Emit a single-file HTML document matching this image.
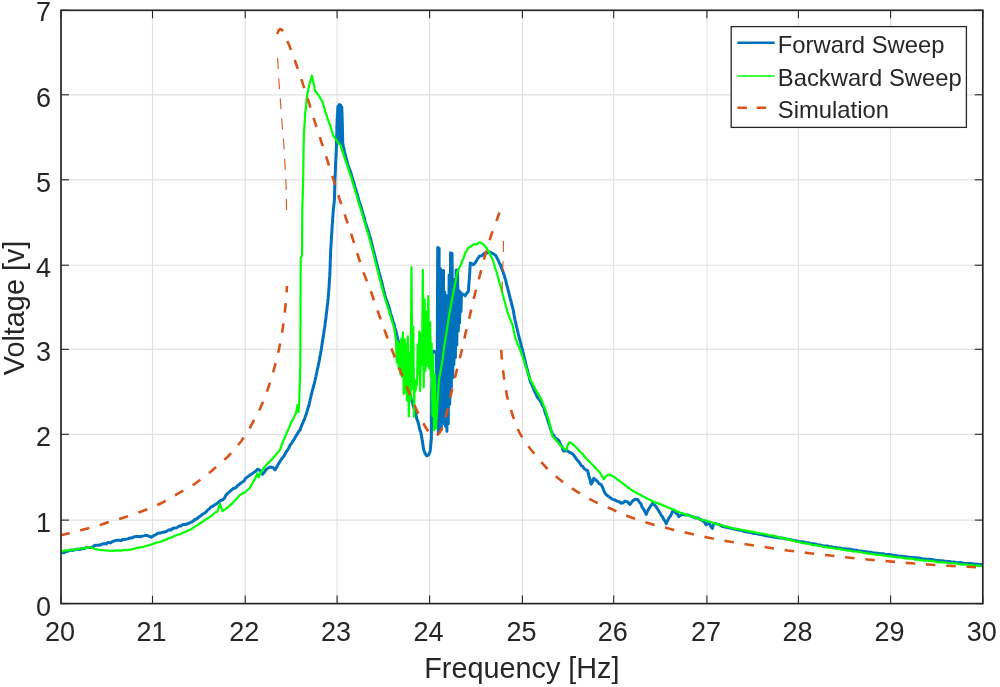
<!DOCTYPE html>
<html lang="en">
<head>
<meta charset="utf-8">
<title>Voltage vs Frequency sweep</title>
<style>
html,body{margin:0;padding:0;background:#fff;}
body{width:1000px;height:687px;overflow:hidden;}
svg{display:block;filter:blur(0.45px);font-family:"Liberation Sans",sans-serif;}
</style>
</head>
<body>
<svg width="1000" height="687" viewBox="0 0 1000 687">
<defs><clipPath id="box"><rect x="61.0" y="10.3" width="921.80" height="593.30"/></clipPath></defs>
<rect width="1000" height="687" fill="#fff"/>
<line x1="152.50" y1="10.3" x2="152.50" y2="603.6" stroke="#e1e1e1" stroke-width="1.15"/>
<line x1="245.20" y1="10.3" x2="245.20" y2="603.6" stroke="#e1e1e1" stroke-width="1.15"/>
<line x1="337.10" y1="10.3" x2="337.10" y2="603.6" stroke="#e1e1e1" stroke-width="1.15"/>
<line x1="429.60" y1="10.3" x2="429.60" y2="603.6" stroke="#e1e1e1" stroke-width="1.15"/>
<line x1="522.40" y1="10.3" x2="522.40" y2="603.6" stroke="#e1e1e1" stroke-width="1.15"/>
<line x1="613.70" y1="10.3" x2="613.70" y2="603.6" stroke="#e1e1e1" stroke-width="1.15"/>
<line x1="706.90" y1="10.3" x2="706.90" y2="603.6" stroke="#e1e1e1" stroke-width="1.15"/>
<line x1="798.40" y1="10.3" x2="798.40" y2="603.6" stroke="#e1e1e1" stroke-width="1.15"/>
<line x1="890.60" y1="10.3" x2="890.60" y2="603.6" stroke="#e1e1e1" stroke-width="1.15"/>
<line x1="61.0" y1="520.10" x2="982.8" y2="520.10" stroke="#e1e1e1" stroke-width="1.15"/>
<line x1="61.0" y1="434.30" x2="982.8" y2="434.30" stroke="#e1e1e1" stroke-width="1.15"/>
<line x1="61.0" y1="349.30" x2="982.8" y2="349.30" stroke="#e1e1e1" stroke-width="1.15"/>
<line x1="61.0" y1="265.20" x2="982.8" y2="265.20" stroke="#e1e1e1" stroke-width="1.15"/>
<line x1="61.0" y1="179.80" x2="982.8" y2="179.80" stroke="#e1e1e1" stroke-width="1.15"/>
<line x1="61.0" y1="94.80" x2="982.8" y2="94.80" stroke="#e1e1e1" stroke-width="1.15"/>
<g clip-path="url(#box)" fill="none" stroke-linejoin="round">
<polyline points="60.5,552.5 64.0,552.8 66.0,551.5 68.0,551.2 70.3,550.1 72.7,550.4 75.0,549.8 77.3,549.1 79.7,549.5 82.0,548.6 84.0,548.7 86.0,547.7 88.0,547.4 90.0,547.4 92.0,547.4 94.0,545.8 96.0,545.3 98.0,545.3 100.0,545.1 102.0,544.2 104.0,543.6 106.0,544.0 108.0,542.4 110.3,542.9 112.7,541.5 115.0,540.7 117.0,540.3 119.0,540.2 121.0,540.6 123.0,539.4 125.3,539.4 127.7,538.9 130.0,538.0 132.0,537.9 134.0,536.9 136.0,536.6 138.0,536.4 140.0,536.8 142.5,536.1 145.0,535.6 147.5,535.6 149.3,536.4 151.2,537.2 154.0,535.4 156.0,534.6 158.0,533.3 160.0,533.1 162.3,532.3 164.7,532.1 167.0,531.1 169.0,529.8 171.0,530.1 173.0,528.2 175.0,527.9 177.0,527.7 179.0,526.1 181.0,525.9 183.0,524.6 185.3,524.5 187.7,523.8 190.0,522.6 192.5,521.7 195.0,519.5 196.7,518.9 198.3,517.5 200.0,516.3 202.0,514.6 204.0,513.5 206.0,512.1 207.6,510.1 209.2,509.1 210.9,506.9 212.5,506.5 214.2,505.1 216.0,504.2 218.0,502.8 220.0,500.9 223.0,499.6 224.5,498.0 226.0,495.1 227.5,493.7 229.8,491.5 232.0,489.7 233.8,488.2 235.7,487.9 237.5,485.7 239.8,484.0 242.0,482.3 243.8,481.2 245.7,478.2 247.5,476.9 249.8,475.2 252.0,473.7 253.8,472.4 255.7,471.2 257.5,469.2 260.0,470.4 261.2,472.0 262.5,474.3 264.2,472.5 266.0,469.5 268.0,468.3 270.0,467.1 273.0,467.6 275.0,469.8 276.2,468.0 277.5,465.7 278.7,463.3 279.8,461.9 281.0,459.8 282.3,458.0 283.7,456.5 285.0,454.1 286.3,451.7 287.7,449.8 289.0,447.7 290.2,444.8 291.3,443.9 292.5,441.6 293.7,440.0 294.8,438.2 296.0,435.8 297.3,433.9 298.7,431.4 300.0,430.2 301.0,427.1 302.0,424.7 303.0,422.6 303.8,420.5 304.6,418.8 305.4,416.4 306.2,414.3 306.8,412.5 307.3,410.4 307.9,408.8 308.4,406.3 309.0,405.5 309.4,403.0 309.9,401.0 310.3,399.0 310.8,397.0 311.2,395.0 311.8,393.2 312.3,390.5 312.9,388.7 313.4,386.8 314.0,384.8 314.4,383.0 314.9,381.0 315.3,379.0 315.8,377.0 316.2,375.0 316.7,372.8 317.1,370.7 317.6,368.5 318.1,366.3 318.5,364.2 319.0,362.0 319.4,360.0 319.7,358.0 320.1,356.0 320.5,354.0 320.8,352.0 321.2,350.0 321.5,348.0 321.8,346.0 322.1,344.0 322.4,342.0 322.7,340.0 323.0,338.0 323.3,335.8 323.7,333.7 324.0,331.5 324.3,329.3 324.7,327.2 325.0,325.0 325.2,323.0 325.5,321.0 325.8,319.0 326.0,317.0 326.2,315.0 326.5,313.0 326.8,310.8 327.0,308.7 327.2,306.5 327.5,304.3 327.8,302.2 328.0,300.0 328.2,297.9 328.3,295.7 328.5,293.6 328.7,291.4 328.9,289.3 329.0,287.1 329.2,285.0 329.3,282.9 329.4,280.7 329.5,278.6 329.7,276.4 329.8,274.3 329.9,272.1 330.0,270.0 330.1,267.8 330.2,265.7 330.2,263.5 330.3,261.3 330.4,259.2 330.5,257.0 330.5,254.8 330.6,252.7 330.7,250.5 330.8,248.5 330.9,246.5 331.1,244.5 331.2,242.5 331.3,240.4 331.4,238.4 331.5,236.4 331.7,234.4 331.8,232.4 331.9,230.4 332.0,228.4 332.2,226.4 332.3,224.4 332.5,222.4 332.6,220.4 332.7,218.3 332.9,216.3 333.0,214.3 333.2,212.3 333.3,210.3 333.5,208.2 333.7,206.2 334.0,204.1 334.2,202.1 334.4,200.0 334.5,197.8 334.5,195.6 334.6,193.4 334.6,191.2 334.7,189.0 334.7,186.8 334.8,184.6 334.8,182.4 334.9,180.2 335.0,178.2 335.1,176.2 335.2,174.1 335.3,172.1 335.4,170.1 335.4,168.1 335.5,166.1 335.6,164.0 335.7,162.0 335.8,160.0 335.9,158.0 336.0,156.0 336.1,154.0 336.2,152.0 336.3,150.0 336.4,148.0 336.4,146.0 336.5,144.0 336.5,142.0 336.6,140.0 336.6,138.0 336.7,136.0 336.8,134.0 336.8,132.0 336.9,130.0 336.9,128.0 336.9,126.0 337.0,124.0 337.1,121.8 337.2,119.6 337.3,117.4 337.4,115.2 337.6,113.1 337.7,110.9 337.8,108.7 337.9,106.5 337.9,108.5 338.0,110.6 338.0,112.6 338.0,114.6 338.1,116.6 338.1,118.7 338.1,120.7 338.2,122.7 338.2,124.8 338.3,126.8 338.3,128.8 338.3,130.9 338.4,132.9 338.4,134.9 338.4,136.9 338.5,139.0 338.5,141.0 338.5,139.0 338.6,136.9 338.6,134.9 338.7,132.9 338.7,130.9 338.7,128.8 338.8,126.8 338.8,124.8 338.9,122.8 338.9,120.7 338.9,118.7 339.0,116.7 339.0,114.6 339.0,112.6 339.1,110.6 339.1,108.6 339.2,106.5 339.2,104.5 339.2,106.5 339.3,108.6 339.3,110.6 339.3,112.6 339.4,114.6 339.4,116.7 339.5,118.7 339.5,120.7 339.5,122.7 339.6,124.8 339.6,126.8 339.6,128.8 339.7,130.8 339.7,132.9 339.8,134.9 339.8,136.9 339.8,138.9 339.9,141.0 339.9,143.0 339.9,141.0 340.0,139.0 340.0,137.0 340.0,135.0 340.1,133.0 340.1,131.0 340.2,129.0 340.2,127.0 340.2,125.0 340.3,123.0 340.3,121.0 340.3,119.0 340.4,117.0 340.4,115.0 340.5,113.0 340.5,111.0 340.5,109.0 340.6,107.0 340.6,105.0 340.6,107.1 340.7,109.1 340.7,111.2 340.7,113.2 340.8,115.3 340.8,117.3 340.8,119.4 340.9,121.4 340.9,123.5 340.9,125.5 340.9,127.6 341.0,129.6 341.0,131.7 341.0,133.7 341.1,135.8 341.1,137.8 341.1,139.9 341.2,141.9 341.2,144.0 341.2,141.9 341.3,139.9 341.3,137.8 341.3,135.8 341.4,133.7 341.4,131.7 341.4,129.6 341.5,127.6 341.5,125.5 341.5,123.4 341.6,121.4 341.6,119.3 341.6,117.3 341.7,115.2 341.7,113.2 341.7,111.1 341.8,109.1 341.8,107.0 341.8,109.1 341.9,111.2 341.9,113.3 342.0,115.4 342.0,117.5 342.1,119.5 342.1,121.6 342.2,123.7 342.2,125.8 342.3,127.9 342.3,130.0 342.3,128.0 342.2,126.0 342.2,124.0 342.2,122.0 342.1,120.0 342.1,118.0 342.1,116.0 342.0,114.0 342.0,112.0 342.1,114.1 342.1,116.1 342.2,118.2 342.2,120.3 342.3,122.3 342.3,124.4 342.4,126.5 342.4,128.5 342.5,130.6 342.5,132.7 342.6,134.7 342.6,136.8 342.7,138.9 342.7,140.9 342.8,143.0 343.2,145.2 343.7,147.5 344.2,149.8 344.6,152.0 345.1,154.0 345.6,156.1 346.1,158.1 346.6,160.1 347.2,161.6 347.9,164.6 348.5,166.8 349.2,168.1 349.8,170.1 350.5,171.6 351.1,173.6 351.8,176.0 352.4,177.9 353.0,180.7 353.6,181.7 354.2,183.6 354.8,186.9 355.4,188.3 356.0,189.8 356.6,192.3 357.2,193.6 357.8,196.3 358.4,199.0 359.0,200.8 359.6,202.6 360.2,204.0 360.8,206.2 361.4,207.9 362.0,210.7 362.6,212.4 363.2,214.8 363.8,216.2 364.4,218.0 365.0,220.8 365.6,223.1 366.2,224.9 366.8,226.8 367.4,228.8 368.0,230.7 368.6,232.0 369.2,234.4 369.8,236.2 370.4,237.7 370.9,240.4 371.4,242.4 371.9,244.4 372.4,246.4 372.9,248.4 373.4,250.4 374.0,252.5 374.5,254.5 375.0,256.5 375.5,258.5 376.0,260.5 376.5,262.5 377.0,264.4 377.5,266.4 378.0,268.3 378.5,270.3 379.0,272.2 379.5,274.2 380.0,276.1 380.5,278.1 381.0,280.0 381.6,281.5 382.1,284.0 382.7,286.1 383.3,288.8 383.9,291.4 384.4,292.8 385.0,295.6 385.6,297.7 386.2,299.6 386.9,300.8 387.5,302.6 388.1,304.6 388.8,306.6 389.4,308.6 390.0,311.2 390.6,313.6 391.2,315.6 391.9,317.2 392.5,319.5 393.1,321.7 393.8,322.8 394.4,325.7 395.0,328.1 395.5,329.6 396.0,331.6 396.5,333.7 397.0,335.8 397.5,337.8 398.0,339.9 398.5,341.9 399.0,344.0 399.4,346.0 399.9,348.0 400.3,350.0 400.8,352.0 401.2,354.0 401.6,356.0 402.1,358.0 402.5,360.0 402.9,362.1 403.4,364.2 403.8,366.4 404.2,368.5 404.7,370.6 405.1,372.8 405.6,374.9 406.0,377.0 406.4,379.0 406.9,381.0 407.3,383.0 407.8,385.0 408.2,387.0 408.7,389.0 409.1,391.0 409.6,393.0 410.0,395.0 410.7,397.6 411.3,399.7 412.0,401.5 412.7,403.2 413.3,406.2 414.0,407.8 414.5,410.4 415.1,412.6 415.6,413.8 416.2,415.7 416.7,418.5 417.3,420.1 417.8,421.3 418.4,423.5 419.0,425.7 419.6,428.9 420.2,431.0 420.8,432.2 421.4,435.4 421.7,437.0 422.0,439.0 422.3,441.1 422.7,443.2 423.0,445.3 423.3,447.3 423.6,449.4 424.6,452.3 425.5,454.0 426.5,455.8 428.5,455.1 430.1,451.5 430.3,450.0 430.5,448.0 430.7,446.0 430.8,444.0 431.0,442.0 431.2,440.0 431.4,438.0 431.4,436.0 431.4,434.0 431.4,432.0 431.5,430.0 431.5,428.0 431.5,426.0 431.5,424.0 431.5,422.0 431.5,420.0 431.5,418.0 431.5,416.0 431.6,414.0 431.6,412.0 431.6,410.0 431.6,408.0 431.6,406.0 431.6,404.0 431.6,402.0 431.7,400.0 431.7,398.0 431.7,396.0 431.7,394.0 431.7,392.0 431.8,390.0 431.8,388.0 431.9,386.0 431.9,384.0 431.9,382.0 432.0,380.0 432.0,378.0 432.0,376.0 432.1,374.0 432.1,372.0 432.2,370.0 432.2,368.0 432.2,366.0 432.3,364.0 432.3,362.0 432.3,360.0 432.4,358.0 432.4,356.0 432.5,354.0 432.5,352.0 434.0,351.3 435.8,352.7 436.4,352.4 436.4,354.2 436.4,356.2 436.5,358.2 436.5,360.2 436.5,362.3 436.5,364.3 436.5,366.3 436.6,368.3 436.6,370.4 436.6,372.4 436.6,374.4 436.6,376.5 436.6,378.5 436.7,380.5 436.7,382.5 436.7,384.6 436.7,386.6 436.7,388.6 436.8,390.6 436.8,392.7 436.8,394.7 436.8,396.7 436.8,398.7 436.9,400.8 436.9,402.8 436.9,404.8 436.9,406.8 436.9,408.9 436.9,410.9 437.0,412.9 437.0,414.9 437.0,412.9 437.0,410.9 437.0,408.9 437.0,406.9 437.0,404.9 437.0,402.9 437.0,400.8 437.1,398.8 437.1,396.8 437.1,394.8 437.1,392.8 437.1,390.8 437.1,388.7 437.1,386.7 437.1,384.7 437.1,382.7 437.1,380.7 437.1,378.7 437.2,376.6 437.2,374.6 437.2,372.6 437.2,370.6 437.2,368.6 437.2,366.6 437.2,364.5 437.2,362.5 437.2,360.5 437.2,358.5 437.2,356.5 437.2,354.5 437.3,352.4 437.3,350.4 437.3,348.4 437.3,346.4 437.3,344.4 437.3,342.4 437.3,340.4 437.3,338.3 437.3,336.3 437.3,334.3 437.3,332.3 437.4,330.3 437.4,328.3 437.4,326.2 437.4,324.2 437.4,322.2 437.4,320.2 437.4,318.2 437.4,316.2 437.4,314.1 437.4,312.1 437.4,310.1 437.4,308.1 437.5,306.1 437.5,304.1 437.5,302.0 437.5,300.0 437.5,298.0 437.5,296.0 437.5,294.0 437.5,292.0 437.5,289.9 437.5,287.9 437.5,285.9 437.6,283.9 437.6,281.9 437.6,279.9 437.6,277.9 437.6,275.8 437.6,273.8 437.6,271.8 437.6,269.8 437.6,267.8 437.6,265.8 437.6,263.7 437.6,261.7 437.7,259.7 437.7,257.7 437.7,255.7 437.7,253.7 437.7,251.6 437.7,249.6 437.7,247.6 437.7,249.6 437.7,251.6 437.7,253.7 437.7,255.7 437.7,257.7 437.7,259.7 437.8,261.7 437.8,263.7 437.8,265.8 437.8,267.8 437.8,269.8 437.8,271.8 437.8,273.8 437.8,275.8 437.8,277.9 437.8,279.9 437.8,281.9 437.8,283.9 437.8,285.9 437.8,287.9 437.9,290.0 437.9,292.0 437.9,294.0 437.9,296.0 437.9,298.0 437.9,300.0 437.9,302.0 437.9,304.1 437.9,306.1 437.9,308.1 437.9,310.1 437.9,312.1 437.9,314.1 437.9,316.2 437.9,318.2 438.0,320.2 438.0,322.2 438.0,324.2 438.0,326.2 438.0,328.3 438.0,330.3 438.0,332.3 438.0,334.3 438.0,336.3 438.0,338.3 438.0,340.4 438.0,342.4 438.0,344.4 438.0,346.4 438.0,348.4 438.1,350.4 438.1,352.5 438.1,354.5 438.1,356.5 438.1,358.5 438.1,360.5 438.1,362.5 438.1,364.5 438.1,366.6 438.1,368.6 438.1,370.6 438.1,372.6 438.1,374.6 438.1,376.6 438.2,378.7 438.2,380.7 438.2,382.7 438.2,384.7 438.2,386.7 438.2,388.7 438.2,390.8 438.2,392.8 438.2,394.8 438.2,396.8 438.2,398.8 438.2,400.8 438.2,402.9 438.2,404.9 438.2,406.9 438.3,408.9 438.3,410.9 438.3,412.9 438.3,415.0 438.3,417.0 438.3,419.0 438.3,421.0 438.3,423.0 438.3,425.0 438.3,427.0 438.3,429.1 438.3,431.1 438.3,433.1 438.3,431.1 438.4,429.1 438.4,427.1 438.4,425.1 438.4,423.0 438.4,421.0 438.4,419.0 438.4,417.0 438.4,415.0 438.4,413.0 438.4,411.0 438.4,409.0 438.4,407.0 438.4,405.0 438.5,402.9 438.5,400.9 438.5,398.9 438.5,396.9 438.5,394.9 438.5,392.9 438.5,390.9 438.5,388.9 438.5,386.9 438.5,384.9 438.5,382.8 438.5,380.8 438.6,378.8 438.6,376.8 438.6,374.8 438.6,372.8 438.6,370.8 438.6,368.8 438.6,366.8 438.6,364.8 438.6,362.7 438.6,360.7 438.6,358.7 438.6,356.7 438.6,354.7 438.7,352.7 438.7,350.7 438.7,348.7 438.7,346.7 438.7,344.7 438.7,342.6 438.7,340.6 438.7,338.6 438.7,336.6 438.7,334.6 438.7,332.6 438.7,330.6 438.7,328.6 438.8,326.6 438.8,324.6 438.8,322.5 438.8,320.5 438.8,318.5 438.8,316.5 438.8,314.5 438.8,312.5 438.8,310.5 438.8,308.5 438.8,306.5 438.8,304.5 438.9,302.4 438.9,300.4 438.9,298.4 438.9,296.4 438.9,294.4 438.9,292.4 438.9,290.4 438.9,288.4 438.9,286.4 438.9,284.4 438.9,282.3 438.9,280.3 438.9,278.3 439.0,276.3 439.0,274.3 439.0,272.3 439.0,270.3 439.0,268.3 439.0,266.3 439.0,264.3 439.0,262.2 439.0,260.2 439.0,258.2 439.0,256.2 439.0,254.2 439.0,252.2 439.1,250.2 439.1,248.2 439.1,250.2 439.1,252.2 439.1,254.2 439.1,256.2 439.1,258.3 439.1,260.3 439.1,262.3 439.1,264.3 439.1,266.3 439.1,268.3 439.1,270.3 439.2,272.4 439.2,274.4 439.2,276.4 439.2,278.4 439.2,280.4 439.2,282.4 439.2,284.5 439.2,286.5 439.2,288.5 439.2,290.5 439.2,292.5 439.2,294.5 439.2,296.5 439.3,298.6 439.3,300.6 439.3,302.6 439.3,304.6 439.3,306.6 439.3,308.6 439.3,310.7 439.3,312.7 439.3,314.7 439.3,316.7 439.3,318.7 439.3,320.7 439.3,322.8 439.4,324.8 439.4,326.8 439.4,328.8 439.4,330.8 439.4,332.8 439.4,334.8 439.4,336.9 439.4,338.9 439.4,340.9 439.4,342.9 439.4,344.9 439.4,346.9 439.4,349.0 439.4,351.0 439.5,353.0 439.5,355.0 439.5,357.0 439.5,359.0 439.5,361.1 439.5,363.1 439.5,365.1 439.5,367.1 439.5,369.1 439.5,371.1 439.5,373.1 439.5,375.2 439.5,377.2 439.6,379.2 439.6,381.2 439.6,383.2 439.6,385.2 439.6,387.3 439.6,389.3 439.6,391.3 439.6,393.3 439.6,395.3 439.6,397.3 439.6,399.3 439.6,401.4 439.6,403.4 439.7,405.4 439.7,407.4 439.7,409.4 439.7,411.4 439.7,413.5 439.7,415.5 439.7,417.5 439.7,419.5 439.7,421.5 439.7,423.5 439.7,425.6 439.7,423.5 439.7,421.5 439.8,419.5 439.8,417.5 439.8,415.5 439.8,413.5 439.8,411.5 439.8,409.5 439.8,407.4 439.8,405.4 439.8,403.4 439.8,401.4 439.8,399.4 439.9,397.4 439.9,395.4 439.9,393.4 439.9,391.3 439.9,389.3 439.9,387.3 439.9,385.3 439.9,383.3 439.9,381.3 439.9,379.3 439.9,377.3 439.9,375.2 440.0,373.2 440.0,371.2 440.0,369.2 440.0,367.2 440.0,365.2 440.0,363.2 440.0,361.2 440.0,359.1 440.0,357.1 440.0,355.1 440.0,353.1 440.1,351.1 440.1,349.1 440.1,347.1 440.1,345.1 440.1,343.0 440.1,341.0 440.1,339.0 440.1,337.0 440.1,335.0 440.1,333.0 440.1,331.0 440.2,329.0 440.2,326.9 440.2,324.9 440.2,322.9 440.2,320.9 440.2,318.9 440.2,316.9 440.2,314.9 440.2,312.9 440.2,310.8 440.2,308.8 440.2,306.8 440.3,304.8 440.3,302.8 440.3,300.8 440.3,298.8 440.3,296.8 440.3,294.7 440.3,292.7 440.3,290.7 440.3,288.7 440.3,286.7 440.3,284.7 440.4,282.7 440.4,280.7 440.4,278.6 440.4,276.6 440.4,274.6 440.4,272.6 440.4,270.6 440.4,268.6 440.4,270.6 440.4,272.6 440.4,274.6 440.5,276.6 440.5,278.6 440.5,280.7 440.5,282.7 440.5,284.7 440.5,286.7 440.5,288.7 440.5,290.7 440.5,292.7 440.6,294.8 440.6,296.8 440.6,298.8 440.6,300.8 440.6,302.8 440.6,304.8 440.6,306.8 440.6,308.8 440.6,310.9 440.6,312.9 440.7,314.9 440.7,316.9 440.7,318.9 440.7,320.9 440.7,322.9 440.7,324.9 440.7,327.0 440.7,329.0 440.7,331.0 440.7,333.0 440.8,335.0 440.8,337.0 440.8,339.0 440.8,341.1 440.8,343.1 440.8,345.1 440.8,347.1 440.8,349.1 440.8,351.1 440.9,353.1 440.9,355.1 440.9,357.2 440.9,359.2 440.9,361.2 440.9,363.2 440.9,365.2 440.9,367.2 440.9,369.2 440.9,371.2 441.0,373.3 441.0,375.3 441.0,377.3 441.0,379.3 441.0,381.3 441.0,383.3 441.0,385.3 441.0,387.4 441.0,389.4 441.0,391.4 441.1,393.4 441.1,395.4 441.1,397.4 441.1,399.4 441.1,401.4 441.1,403.5 441.1,405.5 441.1,407.5 441.1,409.5 441.2,411.5 441.2,413.5 441.2,415.5 441.2,417.5 441.2,419.6 441.2,421.6 441.2,423.6 441.2,425.6 441.2,427.6 441.2,429.6 441.3,427.6 441.3,425.6 441.3,423.6 441.3,421.6 441.3,419.6 441.3,417.5 441.3,415.5 441.3,413.5 441.3,411.5 441.3,409.5 441.3,407.5 441.3,405.4 441.4,403.4 441.4,401.4 441.4,399.4 441.4,397.4 441.4,395.4 441.4,393.4 441.4,391.3 441.4,389.3 441.4,387.3 441.4,385.3 441.4,383.3 441.5,381.3 441.5,379.3 441.5,377.2 441.5,375.2 441.5,373.2 441.5,371.2 441.5,369.2 441.5,367.2 441.5,365.2 441.5,363.1 441.5,361.1 441.6,359.1 441.6,357.1 441.6,355.1 441.6,353.1 441.6,351.1 441.6,349.0 441.6,347.0 441.6,345.0 441.6,343.0 441.6,341.0 441.6,339.0 441.6,337.0 441.7,334.9 441.7,332.9 441.7,330.9 441.7,328.9 441.7,326.9 441.7,324.9 441.7,322.8 441.7,320.8 441.7,318.8 441.7,316.8 441.7,314.8 441.8,312.8 441.8,310.8 441.8,308.7 441.8,306.7 441.8,304.7 441.8,302.7 441.8,300.7 441.8,298.7 441.8,296.7 441.8,294.6 441.8,292.6 441.9,290.6 441.9,288.6 441.9,286.6 441.9,284.6 441.9,282.6 441.9,280.5 441.9,278.5 441.9,276.5 441.9,274.5 441.9,272.5 441.9,270.5 441.9,272.5 442.0,274.5 442.0,276.5 442.0,278.5 442.0,280.5 442.0,282.5 442.0,284.5 442.0,286.5 442.0,288.5 442.0,290.5 442.0,292.5 442.1,294.5 442.1,296.5 442.1,298.5 442.1,300.5 442.1,302.5 442.1,304.5 442.1,306.5 442.1,308.5 442.1,310.5 442.1,312.5 442.2,314.5 442.2,316.6 442.2,318.6 442.2,320.6 442.2,322.6 442.2,324.6 442.2,326.6 442.2,328.6 442.2,330.6 442.2,332.6 442.2,334.6 442.3,336.6 442.3,338.6 442.3,340.6 442.3,342.6 442.3,344.6 442.3,346.6 442.3,348.6 442.3,350.6 442.3,352.6 442.3,354.6 442.4,356.6 442.4,358.6 442.4,360.6 442.4,362.6 442.4,364.6 442.4,366.6 442.4,368.6 442.4,370.7 442.4,372.7 442.4,374.7 442.4,376.7 442.5,378.7 442.5,380.7 442.5,382.7 442.5,384.7 442.5,386.7 442.5,388.7 442.5,390.7 442.5,392.7 442.5,394.7 442.5,396.7 442.6,398.7 442.6,400.7 442.6,402.7 442.6,404.7 442.6,406.7 442.6,408.7 442.6,410.7 442.6,412.7 442.6,414.7 442.6,416.7 442.7,418.7 442.7,420.7 442.7,418.7 442.7,416.7 442.7,414.7 442.7,412.7 442.7,410.7 442.7,408.7 442.7,406.7 442.7,404.7 442.8,402.7 442.8,400.7 442.8,398.7 442.8,396.7 442.8,394.7 442.8,392.7 442.8,390.7 442.8,388.7 442.8,386.7 442.9,384.7 442.9,382.7 442.9,380.7 442.9,378.7 442.9,376.7 442.9,374.7 442.9,372.7 442.9,370.7 442.9,368.7 442.9,366.7 443.0,364.7 443.0,362.7 443.0,360.7 443.0,358.7 443.0,356.7 443.0,354.7 443.0,352.7 443.0,350.7 443.0,348.7 443.1,346.7 443.1,344.7 443.1,342.7 443.1,340.7 443.1,338.7 443.1,336.7 443.1,334.7 443.1,332.7 443.1,330.7 443.2,328.7 443.2,326.7 443.2,324.7 443.2,322.7 443.2,320.7 443.2,318.7 443.2,316.7 443.2,314.7 443.2,312.6 443.2,310.6 443.3,308.6 443.3,306.6 443.3,304.6 443.3,302.6 443.3,300.6 443.3,298.6 443.3,296.6 443.3,294.6 443.3,292.6 443.4,290.6 443.4,288.6 443.4,286.6 443.4,284.6 443.4,282.6 443.4,280.6 443.4,278.6 443.4,276.6 443.4,274.6 443.5,272.6 443.5,270.6 443.5,272.6 443.5,274.6 443.5,276.7 443.5,278.7 443.5,280.7 443.5,282.7 443.5,284.7 443.5,286.7 443.5,288.8 443.5,290.8 443.6,292.8 443.6,294.8 443.6,296.8 443.6,298.8 443.6,300.9 443.6,302.9 443.6,304.9 443.6,306.9 443.6,308.9 443.6,310.9 443.6,312.9 443.6,315.0 443.6,317.0 443.7,319.0 443.7,321.0 443.7,323.0 443.7,325.0 443.7,327.1 443.7,329.1 443.7,331.1 443.7,333.1 443.7,335.1 443.7,337.1 443.7,339.2 443.7,341.2 443.8,343.2 443.8,345.2 443.8,347.2 443.8,349.2 443.8,351.3 443.8,353.3 443.8,355.3 443.8,357.3 443.8,359.3 443.8,361.3 443.8,363.4 443.8,365.4 443.8,367.4 443.9,369.4 443.9,371.4 443.9,373.4 443.9,375.4 443.9,377.5 443.9,379.5 443.9,381.5 443.9,383.5 443.9,385.5 443.9,387.5 443.9,389.6 443.9,391.6 444.0,393.6 444.0,395.6 444.0,397.6 444.0,399.6 444.0,401.7 444.0,403.7 444.0,405.7 444.0,407.7 444.0,409.7 444.0,411.7 444.0,413.8 444.0,415.8 444.1,417.8 444.1,419.8 444.1,421.8 444.1,423.8 444.1,421.8 444.1,419.8 444.1,417.7 444.1,415.7 444.1,413.7 444.1,411.7 444.1,409.6 444.1,407.6 444.2,405.6 444.2,403.5 444.2,401.5 444.2,399.5 444.2,397.4 444.2,395.4 444.2,393.4 444.2,391.3 444.2,389.3 444.2,387.3 444.3,385.3 444.3,383.2 444.3,381.2 444.3,379.2 444.3,377.1 444.3,375.1 444.3,373.1 444.3,371.0 444.3,369.0 444.3,367.0 444.3,365.0 444.4,362.9 444.4,360.9 444.4,358.9 444.4,356.8 444.4,354.8 444.4,352.8 444.4,350.7 444.4,348.7 444.4,346.7 444.4,344.7 444.4,342.6 444.5,340.6 444.5,338.6 444.5,336.5 444.5,334.5 444.5,332.5 444.5,330.4 444.5,328.4 444.5,326.4 444.5,324.4 444.5,322.3 444.5,320.3 444.6,318.3 444.6,316.2 444.6,314.2 444.6,312.2 444.6,310.1 444.6,308.1 444.6,306.1 444.6,304.1 444.6,302.0 444.6,300.0 444.6,298.0 444.7,295.9 444.7,293.9 444.7,291.9 444.7,293.9 444.7,295.9 444.7,297.9 444.7,299.9 444.7,301.9 444.8,303.9 444.8,305.9 444.8,307.9 444.8,309.9 444.8,311.9 444.8,313.9 444.8,315.9 444.8,317.9 444.8,319.9 444.9,321.9 444.9,323.9 444.9,326.0 444.9,328.0 444.9,330.0 444.9,332.0 444.9,334.0 444.9,336.0 445.0,338.0 445.0,340.0 445.0,342.0 445.0,344.0 445.0,346.0 445.0,348.0 445.0,350.0 445.0,352.0 445.1,354.0 445.1,356.0 445.1,358.0 445.1,360.0 445.1,362.0 445.1,364.0 445.1,366.0 445.1,368.0 445.2,370.1 445.2,372.1 445.2,374.1 445.2,376.1 445.2,378.1 445.2,380.1 445.2,382.1 445.2,384.1 445.2,386.1 445.3,388.1 445.3,390.1 445.3,392.1 445.3,394.1 445.3,396.1 445.3,398.1 445.3,400.1 445.3,402.1 445.4,404.1 445.4,406.1 445.4,408.1 445.4,410.1 445.4,412.1 445.4,414.2 445.4,416.2 445.4,418.2 445.5,420.2 445.5,422.2 445.5,424.2 445.5,426.2 445.5,424.2 445.5,422.2 445.5,420.2 445.5,418.1 445.6,416.1 445.6,414.1 445.6,412.1 445.6,410.1 445.6,408.1 445.6,406.1 445.6,404.1 445.6,402.1 445.6,400.1 445.7,398.1 445.7,396.1 445.7,394.0 445.7,392.0 445.7,390.0 445.7,388.0 445.7,386.0 445.7,384.0 445.8,382.0 445.8,380.0 445.8,378.0 445.8,376.0 445.8,374.0 445.8,372.0 445.8,369.9 445.8,367.9 445.9,365.9 445.9,363.9 445.9,361.9 445.9,359.9 445.9,357.9 445.9,355.9 445.9,353.9 445.9,351.9 446.0,349.9 446.0,347.9 446.0,345.8 446.0,343.8 446.0,341.8 446.0,339.8 446.0,337.8 446.0,335.8 446.1,333.8 446.1,331.8 446.1,329.8 446.1,327.8 446.1,325.8 446.1,323.8 446.1,321.7 446.1,319.7 446.1,317.7 446.2,315.7 446.2,313.7 446.2,311.7 446.2,309.7 446.2,307.7 446.2,305.7 446.2,303.7 446.2,301.7 446.3,299.7 446.3,297.6 446.3,295.6 446.3,297.7 446.3,299.7 446.3,301.7 446.3,303.7 446.3,305.8 446.3,307.8 446.3,309.8 446.4,311.8 446.4,313.8 446.4,315.9 446.4,317.9 446.4,319.9 446.4,321.9 446.4,324.0 446.4,326.0 446.4,328.0 446.4,330.0 446.5,332.1 446.5,334.1 446.5,336.1 446.5,338.1 446.5,340.1 446.5,342.2 446.5,344.2 446.5,346.2 446.5,348.2 446.5,350.3 446.5,352.3 446.6,354.3 446.6,356.3 446.6,358.4 446.6,360.4 446.6,362.4 446.6,364.4 446.6,366.4 446.6,368.5 446.6,370.5 446.6,372.5 446.6,374.5 446.7,376.6 446.7,378.6 446.7,380.6 446.7,382.6 446.7,384.7 446.7,386.7 446.7,388.7 446.7,390.7 446.7,392.7 446.7,394.8 446.8,396.8 446.8,398.8 446.8,400.8 446.8,402.9 446.8,404.9 446.8,406.9 446.8,408.9 446.8,411.0 446.8,413.0 446.8,415.0 446.8,417.0 446.9,419.0 446.9,421.1 446.9,423.1 446.9,425.1 446.9,427.1 446.9,429.2 446.9,431.2 446.9,429.2 446.9,427.2 446.9,425.1 446.9,423.1 447.0,421.1 447.0,419.1 447.0,417.1 447.0,415.1 447.0,413.0 447.0,411.0 447.0,409.0 447.0,407.0 447.0,405.0 447.0,403.0 447.1,401.0 447.1,398.9 447.1,396.9 447.1,394.9 447.1,392.9 447.1,390.9 447.1,388.9 447.1,386.9 447.1,384.8 447.1,382.8 447.1,380.8 447.2,378.8 447.2,376.8 447.2,374.8 447.2,372.8 447.2,370.7 447.2,368.7 447.2,366.7 447.2,364.7 447.2,362.7 447.2,360.7 447.2,358.7 447.3,356.6 447.3,354.6 447.3,352.6 447.3,350.6 447.3,348.6 447.3,346.6 447.3,344.5 447.3,342.5 447.3,340.5 447.3,338.5 447.3,336.5 447.4,334.5 447.4,332.5 447.4,330.4 447.4,328.4 447.4,326.4 447.4,324.4 447.4,322.4 447.4,320.4 447.4,318.4 447.4,316.3 447.4,314.3 447.5,312.3 447.5,310.3 447.5,308.3 447.5,306.3 447.5,304.3 447.5,302.2 447.5,300.2 447.5,298.2 447.5,300.2 447.5,302.3 447.6,304.3 447.6,306.3 447.6,308.3 447.6,310.4 447.6,312.4 447.6,314.4 447.6,316.4 447.6,318.5 447.7,320.5 447.7,322.5 447.7,324.5 447.7,326.6 447.7,328.6 447.7,330.6 447.7,332.7 447.7,334.7 447.8,336.7 447.8,338.7 447.8,340.8 447.8,342.8 447.8,344.8 447.8,346.8 447.8,348.9 447.8,350.9 447.9,352.9 447.9,354.9 447.9,357.0 447.9,359.0 447.9,361.0 447.9,363.0 447.9,365.1 447.9,367.1 448.0,369.1 448.0,371.1 448.0,373.2 448.0,375.2 448.0,377.2 448.0,379.2 448.0,381.3 448.0,383.3 448.1,385.3 448.1,387.4 448.1,389.4 448.1,391.4 448.1,393.4 448.1,395.5 448.1,397.5 448.1,399.5 448.2,401.5 448.2,403.6 448.2,405.6 448.2,407.6 448.2,409.6 448.2,411.7 448.2,413.7 448.2,415.7 448.3,417.7 448.3,419.8 448.3,421.8 448.3,423.8 448.3,421.8 448.3,419.8 448.3,417.8 448.3,415.8 448.3,413.8 448.4,411.8 448.4,409.7 448.4,407.7 448.4,405.7 448.4,403.7 448.4,401.7 448.4,399.7 448.4,397.7 448.4,395.7 448.5,393.7 448.5,391.7 448.5,389.6 448.5,387.6 448.5,385.6 448.5,383.6 448.5,381.6 448.5,379.6 448.5,377.6 448.6,375.6 448.6,373.6 448.6,371.5 448.6,369.5 448.6,367.5 448.6,365.5 448.6,363.5 448.6,361.5 448.6,359.5 448.7,357.5 448.7,355.5 448.7,353.5 448.7,351.4 448.7,349.4 448.7,347.4 448.7,345.4 448.7,343.4 448.7,341.4 448.8,339.4 448.8,337.4 448.8,335.4 448.8,333.3 448.8,331.3 448.8,329.3 448.8,327.3 448.8,325.3 448.8,323.3 448.9,321.3 448.9,319.3 448.9,317.3 448.9,315.3 448.9,313.2 448.9,311.2 448.9,309.2 448.9,307.2 448.9,305.2 449.0,303.2 449.0,301.2 449.0,299.2 449.0,297.2 449.0,295.1 449.0,293.1 449.0,291.1 449.0,289.1 449.0,287.1 449.1,285.1 449.1,283.1 449.1,281.1 449.1,279.1 449.1,277.1 449.1,275.0 449.1,277.1 449.1,279.1 449.1,281.1 449.2,283.1 449.2,285.1 449.2,287.1 449.2,289.2 449.2,291.2 449.2,293.2 449.2,295.2 449.2,297.2 449.2,299.3 449.2,301.3 449.2,303.3 449.3,305.3 449.3,307.3 449.3,309.3 449.3,311.4 449.3,313.4 449.3,315.4 449.3,317.4 449.3,319.4 449.3,321.5 449.3,323.5 449.4,325.5 449.4,327.5 449.4,329.5 449.4,331.5 449.4,333.6 449.4,335.6 449.4,337.6 449.4,339.6 449.4,341.6 449.4,343.7 449.5,345.7 449.5,347.7 449.5,349.7 449.5,351.7 449.5,353.7 449.5,355.8 449.5,357.8 449.5,359.8 449.5,361.8 449.5,363.8 449.5,365.9 449.6,367.9 449.6,369.9 449.6,371.9 449.6,373.9 449.6,375.9 449.6,378.0 449.6,380.0 449.6,382.0 449.6,384.0 449.6,386.0 449.7,388.1 449.7,390.1 449.7,392.1 449.7,394.1 449.7,396.1 449.7,398.1 449.7,400.2 449.7,402.2 449.7,404.2 449.7,402.2 449.8,400.2 449.8,398.1 449.8,396.1 449.8,394.1 449.8,392.1 449.8,390.1 449.8,388.0 449.8,386.0 449.8,384.0 449.9,382.0 449.9,380.0 449.9,377.9 449.9,375.9 449.9,373.9 449.9,371.9 449.9,369.9 449.9,367.8 449.9,365.8 449.9,363.8 450.0,361.8 450.0,359.8 450.0,357.7 450.0,355.7 450.0,353.7 450.0,351.7 450.0,349.7 450.0,347.6 450.0,345.6 450.1,343.6 450.1,341.6 450.1,339.6 450.1,337.5 450.1,335.5 450.1,333.5 450.1,331.5 450.1,329.5 450.1,327.4 450.2,325.4 450.2,323.4 450.2,321.4 450.2,319.4 450.2,317.3 450.2,315.3 450.2,313.3 450.2,311.3 450.2,309.3 450.3,307.2 450.3,305.2 450.3,303.2 450.3,301.2 450.3,299.2 450.3,297.1 450.3,295.1 450.3,293.1 450.3,291.1 450.4,289.1 450.4,287.0 450.4,285.0 450.4,283.0 450.4,281.0 450.4,279.0 450.4,276.9 450.4,274.9 450.4,272.9 450.5,270.9 450.5,268.9 450.5,266.8 450.5,264.8 450.5,262.8 450.5,260.8 450.5,258.8 450.5,256.7 450.5,254.7 450.6,252.7 450.6,254.7 450.6,256.7 450.6,258.7 450.6,260.7 450.6,262.8 450.6,264.8 450.6,266.8 450.7,268.8 450.7,270.8 450.7,272.8 450.7,274.8 450.7,276.8 450.7,278.8 450.7,280.8 450.7,282.8 450.7,284.9 450.8,286.9 450.8,288.9 450.8,290.9 450.8,292.9 450.8,294.9 450.8,296.9 450.8,298.9 450.8,300.9 450.9,302.9 450.9,305.0 450.9,307.0 450.9,309.0 450.9,311.0 450.9,313.0 450.9,315.0 450.9,317.0 451.0,319.0 451.0,321.0 451.0,323.0 451.0,325.0 451.0,327.1 451.0,329.1 451.0,331.1 451.0,333.1 451.0,335.1 451.1,337.1 451.1,339.1 451.1,341.1 451.1,343.1 451.1,345.1 451.1,347.1 451.1,349.2 451.1,351.2 451.2,353.2 451.2,355.2 451.2,357.2 451.2,359.2 451.2,361.2 451.2,363.2 451.2,365.2 451.2,367.2 451.3,369.3 451.3,371.3 451.3,373.3 451.3,375.3 451.3,377.3 451.3,379.3 451.3,381.3 451.3,383.3 451.4,385.3 451.4,387.3 451.4,385.3 451.4,383.3 451.4,381.3 451.4,379.2 451.4,377.2 451.4,375.2 451.4,373.1 451.5,371.1 451.5,369.1 451.5,367.1 451.5,365.0 451.5,363.0 451.5,361.0 451.5,358.9 451.5,356.9 451.5,354.9 451.6,352.9 451.6,350.8 451.6,348.8 451.6,346.8 451.6,344.7 451.6,342.7 451.6,340.7 451.6,338.7 451.6,336.6 451.6,334.6 451.7,332.6 451.7,330.6 451.7,328.5 451.7,326.5 451.7,324.5 451.7,322.4 451.7,320.4 451.7,318.4 451.7,316.4 451.8,314.3 451.8,312.3 451.8,310.3 451.8,308.2 451.8,306.2 451.8,304.2 451.8,302.2 451.8,300.1 451.8,298.1 451.9,296.1 451.9,294.0 451.9,292.0 451.9,290.0 451.9,288.0 451.9,285.9 451.9,283.9 451.9,281.9 451.9,279.8 452.0,277.8 452.0,275.8 452.0,273.8 452.0,271.7 452.0,269.7 452.0,267.7 452.0,265.7 452.0,263.6 452.0,261.6 452.1,259.6 452.1,257.5 452.1,255.5 452.1,253.5 452.1,255.5 452.1,257.5 452.1,259.5 452.1,261.5 452.1,263.5 452.2,265.5 452.2,267.5 452.2,269.5 452.2,271.5 452.2,273.5 452.2,275.5 452.2,277.5 452.2,279.5 452.2,281.5 452.3,283.5 452.3,285.5 452.3,287.6 452.3,289.6 452.3,291.6 452.3,293.6 452.3,295.6 452.3,297.6 452.3,299.6 452.4,301.6 452.4,303.6 452.4,305.6 452.4,307.6 452.4,309.6 452.4,311.6 452.4,313.6 452.4,315.6 452.4,317.6 452.5,319.6 452.5,321.6 452.5,323.6 452.5,325.6 452.5,327.6 452.5,329.6 452.5,331.6 452.5,333.6 452.5,335.7 452.6,337.7 452.6,339.7 452.6,341.7 452.6,343.7 452.6,345.7 452.6,347.7 452.6,349.7 452.6,351.7 452.6,353.7 452.6,355.7 452.7,357.7 452.7,359.7 452.7,361.7 452.7,363.7 452.7,365.7 452.7,367.7 452.7,369.7 452.7,371.7 452.7,373.7 452.8,375.7 452.8,377.7 452.8,375.7 452.8,373.7 452.8,371.6 452.8,369.6 452.8,367.6 452.8,365.5 452.9,363.5 452.9,361.4 452.9,359.4 452.9,357.4 452.9,355.3 452.9,353.3 452.9,351.3 453.0,349.2 453.0,347.2 453.0,345.1 453.0,343.1 453.0,341.1 453.0,339.0 453.0,337.0 453.0,335.0 453.1,332.9 453.1,330.9 453.1,328.8 453.1,326.8 453.1,324.8 453.1,322.7 453.1,320.7 453.1,318.7 453.2,316.6 453.2,314.6 453.2,312.6 453.2,310.5 453.2,308.5 453.2,306.4 453.2,304.4 453.3,302.4 453.3,300.3 453.3,298.3 453.3,296.3 453.3,294.2 453.3,292.2 453.3,290.1 453.3,288.1 453.4,286.1 453.4,288.1 453.4,290.1 453.4,292.1 453.4,294.1 453.4,296.1 453.4,298.1 453.5,300.1 453.5,302.1 453.5,304.2 453.5,306.2 453.5,308.2 453.5,310.2 453.5,312.2 453.6,314.2 453.6,316.2 453.6,318.2 453.6,320.2 453.6,322.2 453.6,324.2 453.7,326.3 453.7,328.3 453.7,330.3 453.7,332.3 453.7,334.3 453.7,336.3 453.7,338.3 453.8,340.3 453.8,342.3 453.8,344.3 453.8,346.3 453.8,348.4 453.8,350.4 453.8,352.4 453.9,354.4 453.9,356.4 453.9,358.4 453.9,360.4 453.9,362.4 453.9,364.4 453.9,362.4 454.0,360.4 454.0,358.3 454.0,356.3 454.0,354.3 454.0,352.3 454.1,350.2 454.1,348.2 454.1,346.2 454.1,344.1 454.1,342.1 454.2,340.1 454.2,338.1 454.2,336.0 454.2,334.0 454.2,332.0 454.3,330.0 454.3,327.9 454.3,325.9 454.3,323.9 454.3,321.8 454.4,319.8 454.4,317.8 454.4,315.8 454.4,313.7 454.4,311.7 454.5,309.7 454.5,307.6 454.5,305.6 454.5,303.6 454.5,301.6 454.6,299.5 454.6,297.5 454.6,295.5 454.6,293.4 454.6,291.4 454.7,289.4 454.7,287.4 454.7,285.3 454.7,283.3 454.7,281.3 454.8,279.2 454.8,281.3 454.8,283.3 454.8,285.3 454.8,287.3 454.8,289.3 454.9,291.3 454.9,293.3 454.9,295.3 454.9,297.3 454.9,299.3 454.9,301.3 455.0,303.3 455.0,305.4 455.0,307.4 455.0,309.4 455.0,311.4 455.0,313.4 455.0,315.4 455.1,317.4 455.1,319.4 455.1,321.4 455.1,323.4 455.1,325.4 455.1,327.5 455.2,329.5 455.2,331.5 455.2,333.5 455.2,335.5 455.2,337.5 455.2,339.5 455.3,341.5 455.3,343.5 455.3,345.5 455.3,347.5 455.3,349.5 455.3,351.6 455.4,353.6 455.4,355.6 455.4,357.6 455.4,355.5 455.4,353.5 455.4,351.5 455.5,349.4 455.5,347.4 455.5,345.4 455.5,343.3 455.5,341.3 455.5,339.3 455.6,337.2 455.6,335.2 455.6,333.2 455.6,331.1 455.6,329.1 455.6,327.1 455.7,325.0 455.7,323.0 455.7,321.0 455.7,318.9 455.7,316.9 455.8,314.9 455.8,312.8 455.8,310.8 455.8,308.8 455.8,306.7 455.8,304.7 455.9,302.7 455.9,300.6 455.9,298.6 455.9,296.6 455.9,294.5 455.9,292.5 456.0,290.5 456.0,288.4 456.0,286.4 456.0,284.4 456.0,282.3 456.1,280.3 456.1,278.3 456.1,276.2 456.1,274.2 456.1,272.2 456.1,270.1 456.2,272.1 456.2,274.2 456.2,276.2 456.2,278.2 456.2,280.2 456.2,282.2 456.3,284.3 456.3,286.3 456.3,288.3 456.3,290.3 456.3,292.3 456.3,294.4 456.4,296.4 456.4,298.4 456.4,300.4 456.4,302.4 456.4,304.5 456.5,306.5 456.5,308.5 456.5,310.5 456.5,312.5 456.5,314.6 456.5,316.6 456.6,318.6 456.6,320.6 456.6,322.6 456.6,324.7 456.6,326.7 456.6,328.7 456.7,330.7 456.7,332.7 456.7,334.8 456.7,336.8 456.7,338.8 456.7,340.8 456.8,342.8 456.8,344.9 456.8,342.8 456.8,340.8 456.8,338.8 456.9,336.8 456.9,334.7 456.9,332.7 456.9,330.7 456.9,328.7 457.0,326.6 457.0,324.6 457.0,322.6 457.0,320.5 457.1,318.5 457.1,316.5 457.1,314.5 457.1,312.4 457.1,310.4 457.2,308.4 457.2,306.4 457.2,304.3 457.2,302.3 457.2,300.3 457.3,298.3 457.3,296.2 457.3,294.2 457.3,292.2 457.4,290.2 457.4,288.1 457.4,286.1 457.4,284.1 457.4,282.1 457.5,280.0 457.5,278.0 457.5,276.0 457.5,273.9 457.5,271.9 457.6,269.9 457.6,271.9 457.6,274.0 457.6,276.0 457.7,278.0 457.7,280.1 457.7,282.1 457.7,284.2 457.8,286.2 457.8,288.2 457.8,290.3 457.8,292.3 457.9,294.3 457.9,296.4 457.9,298.4 457.9,300.4 458.0,302.5 458.0,304.5 458.0,306.6 458.0,308.6 458.1,310.6 458.1,312.7 458.1,314.7 458.1,316.7 458.1,318.8 458.2,320.8 458.2,322.8 458.2,324.9 458.2,326.9 458.3,329.0 458.3,331.0 458.3,329.0 458.4,326.9 458.4,324.9 458.4,322.9 458.5,320.8 458.5,318.8 458.5,316.8 458.5,314.8 458.6,312.7 458.6,310.7 458.6,308.7 458.7,306.6 458.7,304.6 458.7,302.6 458.8,300.6 458.8,298.5 458.8,296.5 458.9,294.5 458.9,292.4 458.9,290.4 459.0,292.5 459.0,294.5 459.0,296.6 459.1,298.6 459.1,300.7 459.2,302.8 459.2,304.8 459.2,306.9 459.3,308.9 459.3,311.0 459.4,313.0 459.4,315.1 459.4,317.2 459.5,319.2 459.5,321.3 459.5,323.3 459.6,321.2 459.6,319.1 459.7,317.0 459.7,315.0 459.8,312.9 459.8,310.8 459.9,308.7 460.0,306.6 460.0,304.5 460.1,302.4 460.1,300.3 460.2,298.2 460.2,296.1 460.3,294.0 460.3,291.9 460.4,294.1 460.4,296.3 460.5,298.5 460.6,300.7 460.6,302.9 460.7,305.1 460.8,307.2 460.8,309.4 460.9,311.6 461.0,309.6 461.0,307.6 461.1,305.6 461.2,303.6 461.2,301.6 461.3,299.6 461.4,297.6 461.4,295.6 461.5,293.6 463.4,294.4 465.3,295.8 466.8,293.1 468.3,291.7 468.5,289.2 468.6,287.2 468.8,285.2 469.0,283.2 469.1,281.2 469.3,279.2 469.4,277.2 469.6,275.2 469.7,273.2 469.8,271.1 469.9,269.1 470.1,267.1 470.2,265.1 470.3,263.1 473.4,264.6 475.1,262.9 477.0,259.7 478.2,258.0 479.4,256.2 482.0,255.6 484.4,253.3 487.0,252.9 490.0,252.0 493.2,253.8 496.0,255.8 497.1,258.0 498.2,260.3 499.4,263.2 500.5,264.9 501.4,268.0 502.3,269.9 503.2,272.3 503.8,274.3 504.4,275.5 504.9,278.0 505.5,279.6 506.0,281.4 506.6,284.6 507.1,285.8 507.7,288.3 508.2,290.7 508.7,292.4 509.2,294.4 509.7,296.4 510.2,298.4 510.8,300.4 511.3,302.4 511.8,304.4 512.3,306.4 512.8,308.4 513.3,310.4 513.7,312.8 514.1,315.2 514.6,317.6 515.0,320.0 515.5,322.0 516.0,324.0 516.4,326.0 516.9,328.0 517.4,330.0 517.9,332.0 518.3,334.0 518.8,336.0 519.3,338.0 519.8,340.1 520.4,341.8 520.9,344.0 521.4,346.1 522.0,348.4 522.5,349.4 523.0,352.1 523.5,354.3 524.0,356.4 524.5,358.6 525.0,360.7 525.5,362.9 526.0,365.0 526.6,367.2 527.1,368.9 527.7,371.1 528.3,374.0 528.9,375.7 529.4,377.9 530.0,380.4 530.8,382.6 531.6,383.9 532.4,386.2 533.2,388.0 534.0,390.0 534.9,392.1 535.8,393.7 536.6,395.7 537.5,397.5 540.0,400.6 541.0,402.2 541.9,404.3 542.8,406.2 543.8,407.2 544.4,409.7 545.1,412.3 545.7,414.3 546.4,415.4 547.0,417.5 547.8,420.3 548.5,422.2 549.2,424.8 550.0,426.9 550.8,429.8 551.7,432.1 552.5,434.4 553.8,435.2 555.0,437.8 558.0,439.7 559.1,440.8 560.1,443.7 561.2,445.7 562.1,446.7 562.9,449.8 563.8,451.1 567.0,450.5 569.1,452.2 571.2,453.0 573.1,454.3 575.0,456.9 576.2,458.7 577.5,460.2 578.8,461.7 580.0,463.5 581.3,465.7 582.7,466.3 584.0,468.6 585.8,469.8 587.5,470.5 588.2,473.2 588.8,475.9 589.5,478.0 590.1,479.3 590.6,482.5 591.2,484.2 592.5,482.0 593.8,478.2 595.4,479.8 597.0,480.9 599.1,483.6 601.2,484.7 602.1,486.3 603.1,488.6 604.0,491.1 605.1,493.2 606.2,494.7 609.0,496.7 612.5,499.4 614.8,499.9 617.0,501.1 619.1,501.7 621.2,503.2 623.1,502.8 625.0,501.1 627.5,501.9 630.0,504.4 632.5,501.2 635.0,499.2 637.5,499.4 640.0,503.0 641.0,503.9 642.0,507.0 643.0,508.4 644.1,510.0 645.1,512.1 646.2,514.4 647.3,511.5 648.4,509.4 649.5,508.0 651.0,505.5 652.5,503.3 654.0,504.7 655.5,505.9 657.1,508.4 658.8,510.9 660.0,512.9 661.3,515.4 662.5,516.7 663.7,519.3 665.0,521.1 666.2,523.6 667.2,521.3 668.1,519.8 669.0,517.6 670.0,516.8 671.3,514.4 672.5,511.7 673.8,510.0 676.0,513.1 677.4,513.8 678.8,516.6 680.9,515.1 683.0,514.2 685.2,515.1 687.5,514.9 690.2,515.8 693.0,516.8 695.3,517.9 697.7,517.8 700.0,519.3 701.8,520.2 703.5,521.2 704.9,522.9 706.2,524.8 709.0,522.4 710.0,524.7 711.0,526.9 712.5,528.3 713.0,526.0 713.5,524.0 715.0,523.5 717.3,524.1 719.7,524.7 722.0,526.2 724.0,526.7 726.0,527.2 728.0,527.5 730.0,528.1 732.2,528.6 734.4,529.1 736.6,529.4 738.8,530.0 741.0,530.4 743.3,531.2 745.6,531.7 747.9,532.0 750.2,532.4 752.5,533.2 754.9,533.4 757.2,533.9 759.6,534.3 762.0,534.9 764.1,535.4 766.2,535.8 768.3,536.1 770.4,536.6 772.5,536.8 774.6,537.2 776.8,537.4 778.9,537.9 781.0,538.0 783.1,538.3 785.2,538.8 787.4,539.1 789.5,539.5 791.6,539.9 793.7,540.4 795.8,540.8 797.9,541.2 800.0,541.7 802.1,541.8 804.2,542.1 806.2,542.8 808.3,542.8 810.4,543.4 812.5,543.7 814.6,543.8 816.7,544.5 818.8,544.9 820.8,545.1 822.9,545.6 825.0,546.0 827.1,545.9 829.2,546.4 831.2,546.7 833.3,547.2 835.4,547.5 837.5,547.8 839.6,548.0 841.7,548.5 843.8,548.7 845.8,549.0 847.9,549.1 850.0,549.3 852.1,549.6 854.2,550.0 856.2,550.2 858.3,550.8 860.4,551.0 862.5,551.3 864.6,551.6 866.7,551.9 868.8,552.1 870.8,552.2 872.9,552.9 875.0,553.1 877.1,553.3 879.2,553.5 881.2,553.8 883.3,553.8 885.4,554.4 887.5,554.4 889.6,554.5 891.7,554.9 893.8,555.4 895.8,555.4 897.9,555.9 900.0,556.2 902.1,556.2 904.2,556.4 906.2,556.7 908.3,557.1 910.4,557.4 912.5,557.6 914.6,557.8 916.7,557.8 918.8,558.1 920.8,558.4 922.9,558.9 925.0,558.9 927.1,559.3 929.2,559.2 931.2,559.5 933.3,559.8 935.4,560.3 937.5,560.5 939.6,560.7 941.7,560.8 943.8,561.1 945.8,561.3 947.9,561.5 950.0,561.6 952.0,562.2 954.1,562.0 956.1,562.6 958.1,562.8 960.2,562.5 962.2,562.9 964.2,563.3 966.2,563.5 968.3,563.5 970.3,563.6 972.3,563.7 974.4,564.3 976.4,564.1 978.4,564.5 980.5,564.4 982.5,564.8" stroke="#0072bd" stroke-width="3.0"/>
<polyline points="60.5,551.2 63.0,551.1 65.5,550.3 68.0,550.4 71.5,549.9 75.0,549.7 77.7,549.2 80.3,548.5 83.0,548.4 86.5,547.8 90.0,547.2 92.5,548.0 95.0,549.0 97.5,549.5 100.0,549.9 103.0,550.1 106.0,550.5 109.2,550.6 112.5,551.0 115.3,550.4 118.2,550.7 121.0,550.6 124.0,549.9 127.0,550.1 130.0,549.6 132.5,549.2 135.0,548.4 137.5,547.9 140.0,547.4 142.5,547.2 145.0,546.3 147.5,545.5 150.0,545.0 152.5,544.1 155.0,543.1 157.5,542.4 160.0,542.0 162.5,540.7 165.0,540.2 167.5,538.8 170.0,537.9 172.5,537.0 175.0,535.8 177.5,534.9 180.0,534.3 182.5,533.1 185.0,531.9 187.5,530.7 190.0,529.7 192.7,528.2 195.3,526.4 198.0,524.9 200.3,522.9 202.7,521.7 205.0,520.0 208.0,518.2 211.0,516.1 213.2,514.3 215.3,512.5 217.5,511.5 219.0,506.8 220.0,503.8 221.2,507.9 222.5,511.1 226.0,508.6 228.0,507.3 230.0,505.4 232.5,503.1 235.0,500.4 237.5,497.8 240.0,494.9 242.5,493.6 245.0,492.3 247.5,490.0 250.0,487.7 251.3,485.2 252.7,482.7 254.0,480.7 255.2,478.6 256.3,476.0 257.5,473.6 258.8,477.3 260.0,473.8 261.8,471.2 263.5,468.3 265.5,466.0 267.5,463.7 269.7,461.6 271.8,459.5 274.0,457.1 276.0,454.6 278.0,452.3 280.0,450.0 281.2,446.4 282.5,442.9 283.8,439.7 285.0,436.9 286.0,434.9 287.0,432.1 288.0,430.0 289.1,427.6 290.1,425.2 291.2,422.3 292.6,419.9 294.0,417.3 295.1,414.9 296.2,412.5 296.6,410.0 297.1,407.5 297.5,405.0 298.1,408.5 298.6,412.0 298.8,409.0 299.0,406.0 299.1,403.0 299.3,400.0 299.4,397.5 299.4,395.0 299.5,392.5 299.6,390.0 299.7,387.5 299.7,385.0 299.8,382.5 299.9,380.0 299.9,377.5 300.0,375.0 300.1,372.5 300.2,370.0 300.2,367.5 300.3,365.0 300.3,362.5 300.3,359.9 300.3,357.4 300.3,354.8 300.3,352.3 300.4,349.7 300.4,347.2 300.4,344.6 300.4,342.1 300.4,339.5 300.4,337.0 300.4,334.4 300.4,331.9 300.4,329.3 300.4,326.8 300.5,324.2 300.5,321.7 300.5,319.1 300.5,316.6 300.5,314.0 300.5,311.5 300.5,309.0 300.5,306.4 300.5,303.9 300.5,301.3 300.5,298.8 300.6,296.2 300.6,293.7 300.6,291.1 300.6,288.6 300.6,286.0 300.6,283.5 300.6,280.9 300.6,278.4 300.6,275.8 300.6,273.3 300.7,270.7 300.7,268.2 300.7,265.6 300.7,263.1 300.7,260.5 300.7,258.0 302.0,255.8 302.0,253.0 302.0,250.4 302.1,247.9 302.1,245.4 302.1,242.9 302.1,240.3 302.1,237.8 302.1,235.3 302.1,232.8 302.2,230.2 302.2,227.7 302.2,225.2 302.2,222.6 302.2,220.1 302.2,217.6 302.3,215.1 302.3,212.5 302.3,210.0 302.4,207.3 302.4,204.7 302.5,202.0 302.6,199.3 302.7,196.7 302.8,194.0 302.8,191.3 302.9,188.7 303.0,186.0 303.1,183.3 303.1,180.7 303.2,178.0 303.2,175.5 303.3,173.0 303.3,170.5 303.3,168.0 303.4,165.5 303.4,163.0 303.4,160.5 303.5,158.0 303.5,155.5 303.5,153.0 303.6,150.5 303.6,148.0 303.7,145.3 303.7,142.6 303.8,139.9 303.8,137.2 303.9,134.5 304.1,131.7 304.2,129.0 304.4,126.2 304.6,123.5 304.8,120.7 304.9,117.9 305.1,115.2 305.3,112.4 305.6,109.8 305.9,107.2 306.2,104.6 306.4,102.1 306.7,99.5 307.0,96.9 307.3,94.3 307.8,91.8 308.3,89.3 308.8,86.8 309.3,84.3 310.2,81.7 311.0,78.9 311.9,75.6 312.6,79.1 313.3,82.3 314.0,85.3 314.6,88.3 315.3,91.3 317.3,93.5 319.3,96.4 320.8,99.1 322.3,101.4 323.1,104.1 323.9,106.3 324.7,109.1 325.5,112.1 326.3,114.6 327.1,117.0 327.9,119.5 328.8,121.5 329.6,123.8 330.4,126.3 331.4,129.5 332.4,132.6 333.4,135.8 335.2,138.4 337.0,141.1 338.6,143.2 340.3,145.0 341.2,147.6 342.0,149.9 342.9,152.9 343.8,155.2 344.6,158.2 345.5,160.6 346.4,163.0 347.2,165.4 348.1,168.1 348.9,170.9 349.8,173.5 350.6,175.7 351.5,178.2 352.2,181.0 353.0,183.5 353.8,185.9 354.5,188.3 355.2,191.1 356.0,193.2 356.8,195.9 357.5,198.5 358.2,201.3 359.0,203.6 359.8,206.2 360.5,208.5 361.2,210.8 362.0,213.3 362.8,216.3 363.5,218.6 364.2,220.9 365.0,223.2 365.8,226.0 366.5,228.6 367.2,231.0 368.0,233.4 368.8,236.1 369.5,238.8 370.2,241.2 370.9,243.8 371.5,246.5 372.2,249.2 372.9,251.8 373.6,254.5 374.2,257.2 374.9,259.8 375.6,262.5 376.2,265.0 376.9,267.5 377.5,270.0 378.1,272.5 378.7,275.0 379.4,277.5 380.0,280.0 380.7,282.3 381.3,284.7 382.0,287.4 382.7,290.0 383.3,292.6 384.0,294.8 384.8,297.8 385.7,300.5 386.5,303.0 387.3,305.5 388.2,308.6 389.0,310.9 389.8,313.9 390.7,316.3 391.5,319.1 392.3,322.2 393.2,324.6 394.0,327.8 394.4,330.0 394.8,332.5 395.2,335.0 395.6,337.5 396.0,340.0 396.0,340.1 396.1,342.9 396.2,345.7 396.3,348.5 396.4,351.3 396.5,354.1 396.6,356.9 396.7,359.7 396.8,362.5 396.9,359.9 397.1,357.2 397.2,354.6 397.3,351.9 397.4,349.3 397.5,346.6 397.6,343.9 397.7,341.3 397.8,343.8 397.9,346.3 398.0,348.8 398.1,351.4 398.2,353.9 398.2,356.4 398.3,358.9 398.4,361.4 398.5,363.9 398.6,366.5 398.7,369.0 398.8,366.4 398.9,363.9 398.9,361.4 399.0,358.8 399.1,356.3 399.2,353.8 399.3,351.3 399.4,348.7 399.5,346.2 399.5,343.7 399.6,346.2 399.7,348.8 399.7,351.4 399.8,354.0 399.9,356.5 400.0,359.1 400.0,361.7 400.1,364.2 400.2,366.8 400.2,369.4 400.3,372.0 400.4,374.5 400.5,372.0 400.5,369.4 400.6,366.9 400.6,364.3 400.7,361.8 400.8,359.2 400.8,356.6 400.9,354.1 401.0,351.5 401.0,349.0 401.1,346.4 401.1,343.8 401.2,341.3 401.3,338.7 401.3,341.3 401.4,343.8 401.4,346.3 401.5,348.9 401.5,351.4 401.6,353.9 401.6,356.5 401.7,359.0 401.7,361.5 401.8,364.1 401.8,366.6 401.9,369.2 401.9,371.7 402.0,374.2 402.0,376.8 402.1,374.1 402.1,371.5 402.2,368.9 402.2,366.3 402.3,363.7 402.3,361.1 402.4,358.5 402.4,355.9 402.5,353.3 402.5,350.7 402.6,348.1 402.6,345.5 402.7,342.9 402.7,340.3 402.8,337.7 402.8,335.0 402.9,332.4 402.9,335.0 402.9,337.6 403.0,340.1 403.0,342.7 403.1,345.3 403.1,347.8 403.1,350.4 403.2,353.0 403.2,355.5 403.2,358.1 403.3,360.7 403.3,363.2 403.4,365.8 403.4,368.4 403.4,371.0 403.5,373.5 403.5,376.1 403.5,378.7 403.6,381.2 403.6,383.8 403.6,386.4 403.7,388.9 403.7,391.5 403.8,394.1 403.8,391.5 403.9,388.9 403.9,386.3 403.9,383.6 404.0,381.0 404.0,378.4 404.1,375.8 404.1,373.2 404.2,370.6 404.2,368.0 404.3,365.4 404.3,362.8 404.3,360.2 404.4,357.6 404.4,355.0 404.5,352.4 404.5,349.8 404.6,347.2 404.6,344.6 404.7,342.0 404.7,339.4 404.7,342.0 404.8,344.6 404.8,347.3 404.9,349.9 404.9,352.5 404.9,355.1 405.0,357.7 405.0,360.4 405.0,363.0 405.1,365.6 405.1,368.2 405.1,370.8 405.2,373.4 405.2,376.1 405.2,378.7 405.3,381.3 405.3,383.9 405.4,386.5 405.4,389.1 405.4,391.8 405.5,389.2 405.5,386.7 405.5,384.2 405.6,381.7 405.6,379.2 405.7,376.6 405.7,374.1 405.8,371.6 405.8,369.1 405.8,366.6 405.9,364.1 405.9,361.5 406.0,359.0 406.0,356.5 406.0,354.0 406.1,351.5 406.1,348.9 406.2,346.4 406.2,343.9 406.2,346.5 406.3,349.1 406.3,351.6 406.3,354.2 406.4,356.8 406.4,359.4 406.4,362.0 406.5,364.5 406.5,367.1 406.5,369.7 406.6,372.3 406.6,374.9 406.6,377.4 406.7,380.0 406.7,382.6 406.7,385.2 406.8,387.8 406.8,390.3 406.8,392.9 406.9,395.5 406.9,398.1 406.9,400.6 407.0,398.1 407.0,395.5 407.0,392.9 407.1,390.4 407.1,387.8 407.1,385.2 407.2,382.7 407.2,380.1 407.3,377.5 407.3,375.0 407.3,372.4 407.4,369.8 407.4,367.2 407.5,364.7 407.5,362.1 407.5,359.5 407.6,357.0 407.6,354.4 407.6,351.8 407.7,349.3 407.7,346.7 407.8,344.1 407.8,341.5 407.8,339.0 407.9,336.4 407.9,338.9 407.9,341.4 408.0,343.9 408.0,346.4 408.0,348.9 408.0,351.4 408.1,353.9 408.1,356.4 408.1,358.9 408.2,361.4 408.2,363.9 408.2,366.4 408.2,368.9 408.3,371.4 408.3,374.0 408.3,376.5 408.4,379.0 408.4,381.5 408.4,384.0 408.4,386.5 408.5,389.0 408.5,391.5 408.5,394.0 408.6,396.5 408.6,399.0 408.6,401.5 408.6,404.0 408.7,406.5 408.7,409.0 408.7,411.5 408.8,414.0 408.8,416.5 408.8,414.0 408.8,411.4 408.9,408.9 408.9,406.3 408.9,403.8 409.0,401.2 409.0,398.7 409.0,396.1 409.0,393.6 409.1,391.0 409.1,388.5 409.1,385.9 409.1,383.4 409.2,380.8 409.2,378.3 409.2,375.7 409.3,373.2 409.3,370.6 409.3,368.1 409.3,365.6 409.4,363.0 409.4,360.5 409.4,357.9 409.5,355.4 409.5,352.8 409.5,355.4 409.6,358.1 409.6,360.7 409.7,363.3 409.8,365.9 409.8,368.6 409.9,371.2 409.9,373.8 410.0,376.4 410.0,379.1 410.1,381.7 410.2,384.3 410.2,386.9 410.3,389.5 410.3,392.2 410.4,394.8 410.4,397.4 410.5,400.0 410.5,397.5 410.5,395.0 410.6,392.5 410.6,390.0 410.6,387.5 410.6,385.0 410.6,382.5 410.6,380.0 410.7,377.4 410.7,374.9 410.7,372.4 410.7,369.9 410.7,367.4 410.8,364.9 410.8,362.4 410.8,359.9 410.8,357.4 410.8,354.9 410.9,352.3 410.9,349.8 410.9,347.3 410.9,344.8 410.9,342.3 411.0,339.8 411.0,337.3 411.0,334.8 411.0,332.3 411.0,329.8 411.0,327.2 411.1,324.7 411.1,322.2 411.1,319.7 411.1,317.2 411.1,314.7 411.2,312.2 411.2,309.7 411.2,307.2 411.2,304.7 411.2,302.1 411.3,299.6 411.3,297.1 411.3,294.6 411.3,292.1 411.3,289.6 411.4,287.1 411.4,284.6 411.4,282.1 411.4,279.6 411.4,277.0 411.4,274.5 411.5,272.0 411.5,269.5 411.5,267.0 411.5,269.5 411.5,272.1 411.6,274.6 411.6,277.1 411.6,279.7 411.6,282.2 411.6,284.8 411.7,287.3 411.7,289.8 411.7,292.4 411.7,294.9 411.7,297.4 411.7,300.0 411.8,302.5 411.8,305.1 411.8,307.6 411.8,310.1 411.8,312.7 411.9,315.2 411.9,317.7 411.9,320.3 411.9,322.8 411.9,325.4 412.0,327.9 412.0,330.4 412.0,333.0 412.0,335.5 412.0,338.0 412.0,340.6 412.1,343.1 412.1,345.7 412.1,348.2 412.1,350.7 412.1,353.3 412.2,355.8 412.2,358.3 412.2,360.9 412.2,363.4 412.2,365.9 412.3,368.5 412.3,371.0 412.3,373.6 412.3,376.1 412.3,378.6 412.3,381.2 412.4,383.7 412.4,386.2 412.4,388.8 412.4,386.2 412.5,383.7 412.5,381.1 412.6,378.5 412.6,376.0 412.6,373.4 412.7,370.8 412.7,368.3 412.7,365.7 412.8,363.1 412.8,360.6 412.8,358.0 412.9,355.4 412.9,352.9 413.0,350.3 413.0,347.7 413.0,345.2 413.1,342.6 413.1,340.0 413.1,337.5 413.2,334.9 413.2,332.3 413.3,329.8 413.3,327.2 413.3,329.8 413.3,332.3 413.4,334.9 413.4,337.4 413.4,340.0 413.4,342.6 413.4,345.1 413.5,347.7 413.5,350.2 413.5,352.8 413.5,355.3 413.5,357.9 413.6,360.5 413.6,363.0 413.6,365.6 413.6,368.1 413.7,370.7 413.7,373.3 413.7,375.8 413.7,378.4 413.7,380.9 413.8,383.5 413.8,386.1 413.8,388.6 413.8,391.2 413.8,393.7 413.9,396.3 413.9,398.9 413.9,401.4 413.9,404.0 413.9,406.5 414.0,409.1 414.0,411.7 414.0,414.2 414.0,416.8 414.1,414.1 414.1,411.5 414.2,408.8 414.2,406.2 414.3,403.6 414.3,400.9 414.4,398.3 414.4,395.6 414.5,393.0 414.5,390.3 414.6,387.7 414.6,385.0 414.7,382.4 414.7,379.8 414.9,382.5 415.1,385.3 415.4,388.1 415.6,390.8 415.7,388.3 415.9,385.7 416.1,383.1 416.3,380.5 417.0,385.0 417.1,382.4 417.1,379.9 417.2,377.4 417.2,374.8 417.3,372.3 417.3,369.8 417.4,367.2 417.4,364.7 417.4,362.1 417.5,359.6 417.5,357.1 417.6,354.5 417.6,352.0 417.7,349.4 417.7,346.9 417.8,344.4 417.8,347.0 417.9,349.6 418.0,352.2 418.0,354.8 418.1,357.4 418.2,360.0 418.2,362.7 418.3,365.3 418.3,367.9 418.4,370.5 418.5,373.1 418.5,370.5 418.6,367.9 418.6,365.3 418.7,362.7 418.7,360.1 418.8,357.5 418.8,354.9 418.9,352.3 418.9,349.7 419.0,347.1 419.0,344.5 419.1,341.9 419.2,339.3 419.2,336.7 419.3,334.1 419.3,331.5 419.3,334.1 419.4,336.7 419.4,339.2 419.5,341.8 419.5,344.4 419.5,347.0 419.6,349.6 419.6,352.2 419.6,354.8 419.7,357.4 419.7,360.0 419.7,362.6 419.8,365.1 419.8,367.7 419.8,370.3 419.9,372.9 419.9,375.5 420.0,378.1 420.0,380.7 420.0,383.3 420.1,385.9 420.1,388.5 420.1,391.0 420.2,388.5 420.2,386.0 420.3,383.5 420.3,381.0 420.3,378.5 420.4,376.0 420.4,373.5 420.5,371.0 420.5,368.5 420.6,366.0 420.6,363.5 420.6,361.0 420.7,358.5 420.7,356.0 420.8,353.5 420.8,351.0 420.9,348.5 420.9,346.0 420.9,343.5 421.0,341.0 421.0,338.5 421.1,336.0 421.1,333.5 421.2,336.1 421.2,338.8 421.3,341.4 421.4,344.0 421.5,346.7 421.5,349.3 421.6,352.0 421.7,354.6 421.7,357.3 421.8,359.9 421.9,362.6 422.0,365.2 422.0,362.7 422.0,360.2 422.0,357.7 422.1,355.2 422.1,352.7 422.1,350.2 422.1,347.7 422.1,345.2 422.2,342.7 422.2,340.2 422.2,337.7 422.2,335.2 422.3,332.7 422.3,330.1 422.3,327.6 422.3,325.1 422.4,322.6 422.4,320.1 422.4,317.6 422.4,315.1 422.5,312.6 422.5,310.1 422.5,307.6 422.5,305.1 422.6,302.6 422.6,300.1 422.6,297.6 422.6,295.1 422.6,292.6 422.7,290.0 422.7,287.5 422.7,285.0 422.7,282.5 422.8,280.0 422.8,277.5 422.8,275.0 422.8,272.5 422.9,270.0 422.9,272.6 422.9,275.1 422.9,277.7 422.9,280.2 423.0,282.8 423.0,285.3 423.0,287.9 423.0,290.4 423.0,293.0 423.0,295.5 423.1,298.1 423.1,300.6 423.1,303.2 423.1,305.7 423.1,308.3 423.2,310.8 423.2,313.4 423.2,315.9 423.2,318.5 423.2,321.0 423.2,323.6 423.3,326.2 423.3,328.7 423.3,331.3 423.3,333.8 423.3,336.4 423.4,338.9 423.4,341.5 423.4,344.0 423.4,346.6 423.4,349.1 423.4,351.7 423.5,354.2 423.5,356.8 423.5,359.3 423.5,361.9 423.5,364.4 423.6,367.0 423.6,369.5 423.6,372.1 423.6,374.6 423.6,377.2 423.7,379.7 423.7,382.3 423.7,384.9 423.7,387.4 423.7,384.9 423.8,382.4 423.8,379.9 423.8,377.3 423.8,374.8 423.9,372.3 423.9,369.8 423.9,367.3 423.9,364.8 424.0,362.3 424.0,359.7 424.0,357.2 424.0,354.7 424.1,352.2 424.1,349.7 424.1,347.2 424.1,344.7 424.2,342.2 424.2,339.6 424.2,337.1 424.3,334.6 424.3,332.1 424.3,329.6 424.3,327.1 424.4,324.6 424.4,322.0 424.4,319.5 424.4,317.0 424.5,314.5 424.5,312.0 424.5,309.5 424.5,307.0 424.6,304.4 424.6,301.9 424.6,299.4 424.6,302.0 424.7,304.5 424.7,307.1 424.7,309.6 424.8,312.2 424.8,314.7 424.8,317.3 424.9,319.8 424.9,322.4 424.9,324.9 424.9,327.5 425.0,330.0 425.0,332.6 425.0,335.1 425.1,337.7 425.1,340.2 425.1,342.8 425.2,345.3 425.2,347.9 425.2,350.4 425.2,353.0 425.3,355.5 425.3,358.1 425.3,360.6 425.4,363.2 425.4,365.7 425.4,368.3 425.4,370.8 425.5,368.2 425.5,365.7 425.6,363.1 425.6,360.5 425.6,357.9 425.7,355.4 425.7,352.8 425.7,350.2 425.8,347.6 425.8,345.1 425.8,342.5 425.9,339.9 425.9,337.3 425.9,334.8 426.0,332.2 426.0,329.6 426.0,327.0 426.1,324.5 426.1,321.9 426.1,319.3 426.2,316.8 426.2,314.2 426.2,311.6 426.3,314.2 426.3,316.8 426.4,319.3 426.4,321.9 426.5,324.5 426.5,327.1 426.6,329.6 426.6,332.2 426.7,334.8 426.7,337.4 426.8,340.0 426.8,342.5 426.9,345.1 426.9,347.7 427.0,350.3 427.0,352.8 427.0,355.4 427.1,358.0 427.1,360.6 427.2,363.1 427.2,365.7 427.3,363.1 427.3,360.6 427.4,358.0 427.4,355.4 427.4,352.8 427.5,350.3 427.5,347.7 427.5,345.1 427.6,342.5 427.6,339.9 427.7,337.4 427.7,334.8 427.7,332.2 427.8,329.6 427.8,327.1 427.8,324.5 427.9,321.9 427.9,319.3 428.0,316.7 428.0,314.2 428.0,311.6 428.1,309.0 428.1,306.4 428.1,303.9 428.2,301.3 428.2,298.7 428.3,296.1 428.3,298.6 428.3,301.1 428.4,303.6 428.4,306.1 428.4,308.6 428.5,311.1 428.5,313.6 428.5,316.1 428.6,318.6 428.6,321.1 428.6,323.6 428.7,326.1 428.7,328.6 428.7,331.1 428.8,333.6 428.8,336.1 428.8,338.6 428.9,341.1 428.9,343.6 428.9,346.1 429.0,348.6 429.0,351.1 429.0,353.6 429.1,356.1 429.1,358.6 429.1,361.1 429.2,363.6 429.2,366.1 429.2,368.6 429.3,366.0 429.3,363.4 429.4,360.8 429.4,358.3 429.5,355.7 429.5,353.1 429.6,350.5 429.6,347.9 429.7,345.3 429.7,342.7 429.8,340.1 429.8,337.5 429.9,334.9 429.9,332.3 430.0,329.7 430.0,327.1 430.1,324.6 430.1,322.0 430.2,324.5 430.2,327.1 430.3,329.7 430.3,332.3 430.3,334.9 430.4,337.5 430.4,340.1 430.4,342.7 430.5,345.3 430.5,347.8 430.6,350.4 430.6,353.0 430.6,355.6 430.7,358.2 430.7,360.8 430.7,363.4 430.8,366.0 430.8,368.5 430.9,371.1 430.9,373.7 430.9,376.3 431.0,373.8 431.1,371.3 431.1,368.7 431.2,366.2 431.2,363.7 431.3,361.2 431.3,358.7 431.4,356.1 431.5,353.6 431.5,351.1 431.6,348.6 431.6,346.0 431.7,343.5 431.7,346.1 431.7,348.7 431.8,351.3 431.8,353.8 431.8,356.4 431.9,359.0 431.9,361.6 431.9,364.2 431.9,366.8 432.0,369.3 432.0,371.9 432.0,374.5 432.1,377.1 432.1,379.7 432.1,382.2 432.1,384.8 432.2,387.4 432.2,390.0 432.2,392.6 432.2,395.2 432.3,397.7 432.3,400.3 432.3,402.9 432.4,405.5 432.4,408.1 432.4,410.6 432.4,413.2 432.5,415.8 432.5,413.3 432.5,410.8 432.6,408.2 432.6,405.7 432.6,403.2 432.6,400.7 432.7,398.1 432.7,395.6 432.7,393.1 432.8,390.6 432.8,388.0 432.8,385.5 432.9,383.0 432.9,380.5 432.9,378.0 432.9,375.4 433.0,372.9 433.0,370.4 433.0,367.9 433.1,365.3 433.1,362.8 433.1,360.3 433.1,357.8 433.2,355.2 433.2,357.7 433.2,360.2 433.3,362.7 433.3,365.2 433.3,367.7 433.4,370.2 433.4,372.8 433.4,375.3 433.5,377.8 433.5,380.3 433.5,382.8 433.6,385.3 433.6,387.8 433.6,390.3 433.6,392.8 433.7,395.3 433.7,397.8 433.7,400.3 433.8,402.8 433.8,405.3 433.8,407.8 433.9,410.3 433.9,412.8 433.9,415.3 434.0,417.8 434.0,420.3 434.0,422.8 434.1,425.3 434.1,427.8 434.1,430.3 434.2,427.8 434.2,425.3 434.2,422.8 434.3,420.3 434.3,417.8 434.3,415.3 434.4,412.8 434.4,410.3 434.4,407.8 434.5,405.2 434.5,402.7 434.6,400.2 434.6,397.7 434.6,395.2 434.7,392.7 434.7,390.2 434.7,387.7 434.8,385.2 434.8,382.7 434.9,380.2 434.9,377.7 434.9,375.2 435.0,377.7 435.0,380.2 435.1,382.8 435.1,385.3 435.2,387.8 435.2,390.4 435.3,392.9 435.3,395.4 435.3,398.0 435.4,400.5 435.4,403.0 435.5,405.6 435.5,408.1 435.6,410.6 435.6,413.2 435.7,415.7 435.7,418.2 435.8,420.8 435.8,423.3 435.9,425.8 435.9,428.4 436.1,425.8 436.2,423.3 436.4,420.7 436.6,418.2 436.7,415.6 436.9,413.1 437.0,410.5 437.2,408.0 437.4,405.5 437.5,402.9 437.7,400.4 437.9,397.8 438.0,395.3 438.2,392.7 438.3,390.2 438.5,387.6 438.7,385.1 438.8,382.5 439.0,380.0 439.5,377.2 440.0,374.3 440.5,371.5 441.0,368.7 441.5,365.8 442.0,363.0 442.4,360.4 442.7,357.9 443.1,355.3 443.4,352.8 443.8,350.2 444.1,347.7 444.5,345.1 444.8,342.6 445.2,340.0 445.6,337.5 446.0,335.0 446.4,332.5 446.8,330.0 447.2,327.5 447.7,325.0 448.1,322.5 448.5,320.0 448.9,317.5 449.3,315.0 449.7,312.5 450.1,310.0 450.6,307.5 451.0,305.0 451.4,302.5 451.8,300.0 452.4,297.2 453.0,294.3 453.6,291.5 454.1,288.7 454.7,285.8 455.3,283.0 455.8,280.2 456.3,277.5 456.8,274.8 457.3,272.0 458.6,269.3 460.0,266.5 461.3,263.8 462.3,261.2 463.3,258.6 464.3,256.0 465.3,252.8 466.8,250.5 468.3,247.9 470.9,246.6 473.4,244.3 476.0,244.5 480.1,242.3 483.0,244.1 486.1,247.4 487.6,249.8 489.0,252.1 490.6,255.4 492.2,258.5 493.0,260.8 493.9,263.4 494.7,266.5 495.5,269.1 496.4,271.3 497.2,274.4 497.9,276.8 498.6,279.4 499.3,282.0 500.1,284.4 500.8,286.9 501.5,289.7 502.2,292.3 502.9,295.1 503.5,297.1 504.2,300.0 504.9,302.0 505.5,304.6 506.2,307.3 506.9,309.8 507.5,312.0 508.2,314.2 509.3,317.1 510.4,319.7 511.4,322.6 512.5,324.8 513.1,327.6 513.6,330.2 514.2,332.8 514.7,335.4 515.3,338.0 516.3,340.3 517.3,343.1 518.2,345.0 519.2,347.6 520.2,350.3 521.2,352.7 522.1,354.9 522.9,357.6 523.8,360.3 524.6,363.6 525.5,365.9 526.4,368.7 527.3,371.4 528.2,373.6 529.1,376.1 530.0,379.1 531.4,381.5 532.8,384.0 534.1,387.0 535.5,389.4 536.9,391.7 538.4,393.9 539.8,396.6 541.2,399.0 542.2,401.4 543.1,404.2 544.0,406.2 545.0,408.8 546.0,411.7 546.9,414.8 547.8,417.5 548.8,419.9 549.4,422.7 550.0,425.4 550.6,428.1 551.3,430.8 551.9,433.5 552.5,436.2 554.8,438.7 557.0,441.5 558.8,443.5 560.7,445.8 562.5,447.3 565.0,449.4 566.5,449.6 567.2,447.2 568.0,444.7 569.5,442.1 572.5,443.9 575.0,446.3 577.5,448.7 579.5,451.2 581.5,453.0 583.5,455.3 585.7,458.0 587.8,460.0 590.0,462.2 592.5,464.7 595.0,467.5 597.5,469.9 600.0,472.8 601.9,475.9 603.8,479.1 606.0,476.1 608.8,474.8 612.0,475.6 615.0,477.5 617.3,479.5 619.7,481.1 622.0,482.8 624.7,484.9 627.3,486.9 630.0,488.9 632.8,490.7 635.7,492.5 638.5,494.1 640.8,495.0 643.0,496.6 645.2,497.5 647.5,498.8 650.3,500.1 653.2,501.6 656.0,502.6 659.0,503.8 662.0,504.9 665.0,506.0 667.5,507.5 670.0,508.3 672.5,509.2 675.0,510.3 677.5,511.7 680.0,512.5 682.5,513.2 685.0,514.4 687.5,515.1 690.0,516.1 692.5,516.4 695.0,517.5 697.5,518.4 700.0,519.2 702.5,520.0 705.0,520.2 707.5,521.1 710.0,521.8 712.5,522.5 715.0,523.7 717.5,524.1 720.0,525.0 722.5,525.4 725.0,526.3 727.5,526.8 730.0,527.4 732.5,528.2 735.0,528.8 737.5,528.8 740.0,529.6 742.5,530.1 745.0,530.3 747.5,530.9 750.0,531.3 752.5,531.8 755.0,532.3 757.5,533.0 760.0,533.5 762.5,533.7 765.0,534.0 767.5,534.7 770.0,535.4 772.5,535.5 775.0,536.1 777.5,536.7 780.0,537.6 782.5,538.1 785.0,538.5 787.5,539.1 790.0,539.9 792.5,540.6 795.0,541.3 797.5,541.6 800.0,542.3 802.5,543.1 805.0,543.3 807.5,543.7 810.0,544.2 812.5,545.0 815.0,545.1 817.5,545.7 820.0,546.0 822.5,546.5 825.0,547.2 827.5,547.7 830.0,547.7 832.5,548.0 835.0,548.7 837.5,548.7 840.0,549.0 842.5,549.9 845.0,550.0 847.5,550.6 850.0,550.7 852.5,551.4 855.0,551.5 857.5,551.7 860.0,552.0 862.5,552.7 865.0,553.1 867.5,553.6 870.0,553.5 872.5,554.2 875.0,554.4 877.5,554.8 880.0,554.9 882.5,555.3 885.0,555.7 887.5,556.3 890.0,556.1 892.5,556.6 895.0,557.1 897.5,557.5 900.0,557.3 902.5,557.6 905.0,558.4 907.5,558.7 910.0,558.7 912.5,558.7 915.0,559.6 917.5,559.5 920.0,560.1 922.5,560.3 925.0,560.7 927.5,560.6 930.0,561.2 932.5,561.1 935.0,561.5 937.5,562.1 940.0,562.3 942.5,562.2 945.0,562.5 947.5,562.9 950.0,563.2 952.5,563.4 955.0,563.4 957.5,563.7 960.0,564.3 962.5,564.6 965.0,564.3 967.5,564.9 970.0,565.2 972.5,565.0 975.0,565.7 977.5,565.5 980.0,566.0 982.5,566.2" stroke="#00ff00" stroke-width="2.2"/>
<polyline points="60.5,535.4 71.0,532.8 82.5,529.8 92.0,527.2 102.5,524.2 112.0,521.0 122.5,518.0 131.0,515.2 140.0,512.0 150.0,508.2 160.0,503.8 169.0,499.0 177.5,493.8 186.0,489.0 195.0,483.8 203.0,477.8 211.2,471.2 219.0,464.5 227.5,457.0 234.5,449.5 241.2,441.2 245.5,434.8 250.0,427.5 255.0,418.5 260.0,408.8 264.0,399.5 267.5,390.0 270.8,380.0 273.8,370.0 276.4,360.0 278.8,350.0 280.8,340.0 282.5,330.0 283.9,320.0 285.0,310.0 286.2,298.0 287.0,286.0" stroke="#d95319" stroke-width="2.6" stroke-dasharray="9.5 10.8"/>
<polyline points="277.2,34.0 278.6,30.5 280.2,29.0 282.0,30.0 283.4,32.5 286.0,38.5 289.2,45.1 296.2,64.2 302.7,83.3 308.9,102.4 314.7,121.4 320.9,140.5 327.3,160.1 333.3,179.2 339.3,198.3 345.7,217.3 352.0,236.4 358.0,255.5 362.5,270.0 370.0,288.8 380.0,317.5 390.0,345.0 400.0,370.0 410.0,395.0 420.0,417.5 426.0,428.0 430.0,433.5 433.0,435.8 436.0,436.2 439.0,433.5 442.5,427.5 445.0,420.0 447.5,410.0 450.0,399.0 452.5,387.5 455.0,377.5 457.5,367.5 460.0,357.5 462.5,347.5 465.7,332.5 470.1,314.5 475.1,293.4 480.1,274.3 485.1,255.2 491.2,235.0 497.2,219.0 499.4,212.5" stroke="#d95319" stroke-width="2.6" stroke-dasharray="9.5 10.8"/>
<polyline points="501.2,350.0 502.2,364.0 503.8,376.2 507.0,396.2 512.5,415.0 516.0,425.0 520.0,433.8 525.5,442.5 531.2,450.0 536.5,456.2 541.2,462.0 549.5,471.0 558.8,478.8 567.0,485.2 576.2,491.2 585.0,496.5 593.8,501.2 602.0,505.2 611.2,508.8 620.0,513.0 630.0,517.0 639.0,520.2 648.8,523.2 658.0,525.9 667.5,528.2 677.0,530.7 687.5,533.0 697.0,535.3 707.5,537.5 717.0,539.4 727.5,541.2 747.5,544.5 767.5,547.5 787.5,550.5 807.5,553.0 827.5,555.3 847.5,557.5 867.5,559.5 887.5,561.2 907.5,563.0 927.5,564.5 947.5,565.8 967.5,566.8 982.5,567.5" stroke="#d95319" stroke-width="2.6" stroke-dasharray="9.5 10.8"/>
<polyline points="277.6,58.0 279.2,85.0 280.8,106.0 282.2,126.0 283.8,144.0 285.1,167.0 286.1,186.0 286.6,212.0" stroke="#d95319" stroke-width="1.1" stroke-dasharray="11 9.2"/>
<polyline points="503.5,241.0 503.2,258.0 502.4,275.0 502.0,292.0" stroke="#d95319" stroke-width="1.1" stroke-dasharray="11 9.2"/>
</g>
<line x1="61.00" y1="603.6" x2="61.00" y2="595.6" stroke="#262626" stroke-width="1.1"/>
<line x1="61.00" y1="10.3" x2="61.00" y2="18.3" stroke="#262626" stroke-width="1.1"/>
<line x1="152.50" y1="603.6" x2="152.50" y2="595.6" stroke="#262626" stroke-width="1.1"/>
<line x1="152.50" y1="10.3" x2="152.50" y2="18.3" stroke="#262626" stroke-width="1.1"/>
<line x1="245.20" y1="603.6" x2="245.20" y2="595.6" stroke="#262626" stroke-width="1.1"/>
<line x1="245.20" y1="10.3" x2="245.20" y2="18.3" stroke="#262626" stroke-width="1.1"/>
<line x1="337.10" y1="603.6" x2="337.10" y2="595.6" stroke="#262626" stroke-width="1.1"/>
<line x1="337.10" y1="10.3" x2="337.10" y2="18.3" stroke="#262626" stroke-width="1.1"/>
<line x1="429.60" y1="603.6" x2="429.60" y2="595.6" stroke="#262626" stroke-width="1.1"/>
<line x1="429.60" y1="10.3" x2="429.60" y2="18.3" stroke="#262626" stroke-width="1.1"/>
<line x1="522.40" y1="603.6" x2="522.40" y2="595.6" stroke="#262626" stroke-width="1.1"/>
<line x1="522.40" y1="10.3" x2="522.40" y2="18.3" stroke="#262626" stroke-width="1.1"/>
<line x1="613.70" y1="603.6" x2="613.70" y2="595.6" stroke="#262626" stroke-width="1.1"/>
<line x1="613.70" y1="10.3" x2="613.70" y2="18.3" stroke="#262626" stroke-width="1.1"/>
<line x1="706.90" y1="603.6" x2="706.90" y2="595.6" stroke="#262626" stroke-width="1.1"/>
<line x1="706.90" y1="10.3" x2="706.90" y2="18.3" stroke="#262626" stroke-width="1.1"/>
<line x1="798.40" y1="603.6" x2="798.40" y2="595.6" stroke="#262626" stroke-width="1.1"/>
<line x1="798.40" y1="10.3" x2="798.40" y2="18.3" stroke="#262626" stroke-width="1.1"/>
<line x1="890.60" y1="603.6" x2="890.60" y2="595.6" stroke="#262626" stroke-width="1.1"/>
<line x1="890.60" y1="10.3" x2="890.60" y2="18.3" stroke="#262626" stroke-width="1.1"/>
<line x1="982.80" y1="603.6" x2="982.80" y2="595.6" stroke="#262626" stroke-width="1.1"/>
<line x1="982.80" y1="10.3" x2="982.80" y2="18.3" stroke="#262626" stroke-width="1.1"/>
<line x1="61.0" y1="603.60" x2="69.0" y2="603.60" stroke="#262626" stroke-width="1.1"/>
<line x1="982.8" y1="603.60" x2="974.8" y2="603.60" stroke="#262626" stroke-width="1.1"/>
<line x1="61.0" y1="520.10" x2="69.0" y2="520.10" stroke="#262626" stroke-width="1.1"/>
<line x1="982.8" y1="520.10" x2="974.8" y2="520.10" stroke="#262626" stroke-width="1.1"/>
<line x1="61.0" y1="434.30" x2="69.0" y2="434.30" stroke="#262626" stroke-width="1.1"/>
<line x1="982.8" y1="434.30" x2="974.8" y2="434.30" stroke="#262626" stroke-width="1.1"/>
<line x1="61.0" y1="349.30" x2="69.0" y2="349.30" stroke="#262626" stroke-width="1.1"/>
<line x1="982.8" y1="349.30" x2="974.8" y2="349.30" stroke="#262626" stroke-width="1.1"/>
<line x1="61.0" y1="265.20" x2="69.0" y2="265.20" stroke="#262626" stroke-width="1.1"/>
<line x1="982.8" y1="265.20" x2="974.8" y2="265.20" stroke="#262626" stroke-width="1.1"/>
<line x1="61.0" y1="179.80" x2="69.0" y2="179.80" stroke="#262626" stroke-width="1.1"/>
<line x1="982.8" y1="179.80" x2="974.8" y2="179.80" stroke="#262626" stroke-width="1.1"/>
<line x1="61.0" y1="94.80" x2="69.0" y2="94.80" stroke="#262626" stroke-width="1.1"/>
<line x1="982.8" y1="94.80" x2="974.8" y2="94.80" stroke="#262626" stroke-width="1.1"/>
<line x1="61.0" y1="10.30" x2="69.0" y2="10.30" stroke="#262626" stroke-width="1.1"/>
<line x1="982.8" y1="10.30" x2="974.8" y2="10.30" stroke="#262626" stroke-width="1.1"/>
<rect x="61.0" y="10.3" width="921.80" height="593.30" fill="none" stroke="#262626" stroke-width="1.7"/>
<g font-size="27" fill="#262626">
<text x="60.00" y="641.4" text-anchor="middle">20</text>
<text x="151.50" y="641.4" text-anchor="middle">21</text>
<text x="244.20" y="641.4" text-anchor="middle">22</text>
<text x="336.10" y="641.4" text-anchor="middle">23</text>
<text x="428.60" y="641.4" text-anchor="middle">24</text>
<text x="521.40" y="641.4" text-anchor="middle">25</text>
<text x="612.70" y="641.4" text-anchor="middle">26</text>
<text x="705.90" y="641.4" text-anchor="middle">27</text>
<text x="797.40" y="641.4" text-anchor="middle">28</text>
<text x="889.60" y="641.4" text-anchor="middle">29</text>
<text x="981.80" y="641.4" text-anchor="middle">30</text>
<text x="51.0" y="615.60" text-anchor="end">0</text>
<text x="51.0" y="532.10" text-anchor="end">1</text>
<text x="51.0" y="446.30" text-anchor="end">2</text>
<text x="51.0" y="361.30" text-anchor="end">3</text>
<text x="51.0" y="277.20" text-anchor="end">4</text>
<text x="51.0" y="191.80" text-anchor="end">5</text>
<text x="51.0" y="106.80" text-anchor="end">6</text>
<text x="51.0" y="21.30" text-anchor="end">7</text>
</g>
<text x="521.90" y="677.6" font-size="28.8" fill="#262626" text-anchor="middle">Frequency [Hz]</text>
<text transform="translate(24.0 307.95) rotate(-90)" font-size="28.8" fill="#262626" text-anchor="middle">Voltage [v]</text>
<rect x="731.2" y="26.6" width="235.2" height="100.8" fill="#fff" stroke="#262626" stroke-width="1.3"/>
<line x1="737.4" y1="42.8" x2="774.6" y2="42.8" stroke="#0072bd" stroke-width="2.6"/>
<line x1="737.4" y1="76.0" x2="774.6" y2="76.0" stroke="#00ff00" stroke-width="1.4"/>
<line x1="737.4" y1="107.8" x2="774.6" y2="107.8" stroke="#d95319" stroke-width="2.5" stroke-dasharray="9.5 9.8"/>
<g font-size="23.8" fill="#262626">
<text x="777.8" y="53.3">Forward Sweep</text>
<text x="777.8" y="85.8">Backward Sweep</text>
<text x="777.8" y="117.8">Simulation</text>
</g>
</svg>
</body>
</html>
